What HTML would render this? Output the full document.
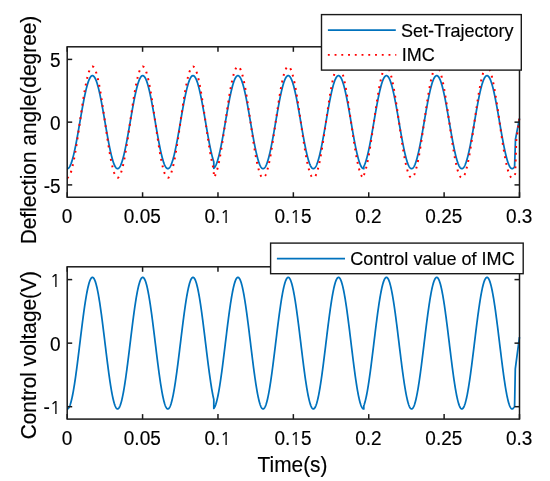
<!DOCTYPE html>
<html><head><meta charset="utf-8"><style>
html,body{margin:0;padding:0;background:#fff;}
svg{display:block;}
text{font-family:"Liberation Sans",Arial,sans-serif;fill:#000;stroke:#000;stroke-width:0.15px;}
.tk{font-size:19px;}
.lb{font-size:20.9px;}
.lg{font-size:18.05px;}
.n1{font-family:NanumGothic,"Liberation Sans",sans-serif;font-size:17.6px;}
</style></head><body>
<svg width="550" height="481" viewBox="0 0 550 481">
<rect width="550" height="481" fill="#fff"/>
<g fill="none" stroke-linejoin="round">
<path d="M67.00,168.62 L67.25,168.65 L67.50,168.63 L67.75,168.57 L68.00,168.47 L68.25,168.32 L68.50,168.13 L68.75,167.89 L69.00,167.60 L69.25,167.27 L69.50,166.90 L69.75,166.49 L70.00,166.03 L70.25,165.52 L70.50,164.98 L70.75,164.39 L71.00,163.77 L71.25,163.10 L71.50,162.39 L71.75,161.64 L72.00,160.86 L72.25,160.03 L72.50,159.17 L72.75,158.27 L73.00,157.34 L73.25,156.38 L73.50,155.38 L73.75,154.34 L74.00,153.28 L74.25,152.19 L74.50,151.06 L74.75,149.91 L75.00,148.73 L75.25,147.53 L75.50,146.30 L75.75,145.05 L76.00,143.77 L76.25,142.47 L76.50,141.16 L76.75,139.82 L77.00,138.47 L77.25,137.10 L77.50,135.72 L77.75,134.32 L78.00,132.92 L78.25,131.50 L78.50,130.07 L78.75,128.64 L79.00,127.20 L79.25,125.75 L79.50,124.30 L79.75,122.85 L80.00,121.39 L80.25,119.94 L80.50,118.49 L80.75,117.05 L81.00,115.61 L81.25,114.17 L81.50,112.74 L81.75,111.33 L82.00,109.92 L82.25,108.52 L82.50,107.14 L82.75,105.77 L83.00,104.42 L83.25,103.09 L83.50,101.77 L83.75,100.48 L84.00,99.20 L84.25,97.95 L84.50,96.72 L84.75,95.52 L85.00,94.34 L85.25,93.19 L85.50,92.07 L85.75,90.98 L86.00,89.91 L86.25,88.88 L86.50,87.88 L86.75,86.92 L87.00,85.99 L87.25,85.09 L87.50,84.23 L87.75,83.41 L88.00,82.63 L88.25,81.88 L88.50,81.18 L88.75,80.51 L89.00,79.88 L89.25,79.30 L89.50,78.76 L89.75,78.25 L90.00,77.80 L90.25,77.38 L90.50,77.01 L90.75,76.69 L91.00,76.40 L91.25,76.17 L91.50,75.97 L91.75,75.82 L92.00,75.72 L92.25,75.67 L92.50,75.65 L92.75,75.69 L93.00,75.77 L93.25,75.89 L93.50,76.06 L93.75,76.27 L94.00,76.53 L94.25,76.84 L94.50,77.18 L94.75,77.58 L95.00,78.01 L95.25,78.49 L95.50,79.01 L95.75,79.57 L96.00,80.18 L96.25,80.82 L96.50,81.51 L96.75,82.23 L97.00,83.00 L97.25,83.80 L97.50,84.64 L97.75,85.52 L98.00,86.43 L98.25,87.38 L98.50,88.36 L98.75,89.37 L99.00,90.42 L99.25,91.50 L99.50,92.60 L99.75,93.74 L100.00,94.90 L100.25,96.09 L100.50,97.31 L100.75,98.55 L101.00,99.81 L101.25,101.10 L101.50,102.40 L101.75,103.73 L102.00,105.07 L102.25,106.43 L102.50,107.80 L102.75,109.19 L103.00,110.59 L103.25,112.01 L103.50,113.43 L103.75,114.86 L104.00,116.30 L104.25,117.74 L104.50,119.19 L104.75,120.64 L105.00,122.09 L105.25,123.54 L105.50,125.00 L105.75,126.44 L106.00,127.89 L106.25,129.33 L106.50,130.76 L106.75,132.18 L107.00,133.59 L107.25,135.00 L107.50,136.39 L107.75,137.76 L108.00,139.12 L108.25,140.47 L108.50,141.79 L108.75,143.10 L109.00,144.39 L109.25,145.65 L109.50,146.89 L109.75,148.11 L110.00,149.30 L110.25,150.47 L110.50,151.61 L110.75,152.72 L111.00,153.79 L111.25,154.84 L111.50,155.86 L111.75,156.84 L112.00,157.79 L112.25,158.71 L112.50,159.59 L112.75,160.43 L113.00,161.24 L113.25,162.01 L113.50,162.73 L113.75,163.42 L114.00,164.07 L114.25,164.68 L114.50,165.25 L114.75,165.77 L115.00,166.25 L115.25,166.69 L115.50,167.09 L115.75,167.44 L116.00,167.74 L116.25,168.01 L116.50,168.22 L116.75,168.40 L117.00,168.53 L117.25,168.61 L117.50,168.65 L117.75,168.64 L118.00,168.58 L118.25,168.48 L118.50,168.34 L118.75,168.15 L119.00,167.92 L119.25,167.64 L119.50,167.32 L119.75,166.95 L120.00,166.54 L120.25,166.08 L120.50,165.59 L120.75,165.05 L121.00,164.47 L121.25,163.84 L121.50,163.18 L121.75,162.48 L122.00,161.73 L122.25,160.95 L122.50,160.13 L122.75,159.28 L123.00,158.38 L123.25,157.46 L123.50,156.49 L123.75,155.50 L124.00,154.47 L124.25,153.41 L124.50,152.32 L124.75,151.20 L125.00,150.05 L125.25,148.88 L125.50,147.67 L125.75,146.45 L126.00,145.20 L126.25,143.92 L126.50,142.63 L126.75,141.32 L127.00,139.98 L127.25,138.63 L127.50,137.27 L127.75,135.89 L128.00,134.49 L128.25,133.09 L128.50,131.67 L128.75,130.24 L129.00,128.81 L129.25,127.37 L129.50,125.92 L129.75,124.47 L130.00,123.02 L130.25,121.57 L130.50,120.12 L130.75,118.67 L131.00,117.22 L131.25,115.78 L131.50,114.34 L131.75,112.91 L132.00,111.50 L132.25,110.09 L132.50,108.69 L132.75,107.31 L133.00,105.94 L133.25,104.58 L133.50,103.25 L133.75,101.93 L134.00,100.63 L134.25,99.36 L134.50,98.10 L134.75,96.87 L135.00,95.66 L135.25,94.48 L135.50,93.33 L135.75,92.20 L136.00,91.11 L136.25,90.04 L136.50,89.01 L136.75,88.00 L137.00,87.03 L137.25,86.10 L137.50,85.20 L137.75,84.34 L138.00,83.51 L138.25,82.72 L138.50,81.97 L138.75,81.26 L139.00,80.59 L139.25,79.96 L139.50,79.37 L139.75,78.82 L140.00,78.31 L140.25,77.85 L140.50,77.43 L140.75,77.05 L141.00,76.72 L141.25,76.43 L141.50,76.19 L141.75,75.99 L142.00,75.84 L142.25,75.73 L142.50,75.67 L142.75,75.65 L143.00,75.68 L143.25,75.75 L143.50,75.87 L143.75,76.04 L144.00,76.25 L144.25,76.50 L144.50,76.80 L144.75,77.14 L145.00,77.53 L145.25,77.96 L145.50,78.43 L145.75,78.95 L146.00,79.50 L146.25,80.10 L146.50,80.74 L146.75,81.43 L147.00,82.15 L147.25,82.91 L147.50,83.70 L147.75,84.54 L148.00,85.41 L148.25,86.32 L148.50,87.26 L148.75,88.24 L149.00,89.25 L149.25,90.29 L149.50,91.37 L149.75,92.47 L150.00,93.60 L150.25,94.76 L150.50,95.95 L150.75,97.16 L151.00,98.40 L151.25,99.66 L151.50,100.94 L151.75,102.25 L152.00,103.57 L152.25,104.91 L152.50,106.27 L152.75,107.64 L153.00,109.02 L153.25,110.42 L153.50,111.84 L153.75,113.26 L154.00,114.69 L154.25,116.12 L154.50,117.57 L154.75,119.01 L155.00,120.47 L155.25,121.92 L155.50,123.37 L155.75,124.82 L156.00,126.27 L156.25,127.71 L156.50,129.15 L156.75,130.59 L157.00,132.01 L157.25,133.43 L157.50,134.83 L157.75,136.22 L158.00,137.60 L158.25,138.96 L158.50,140.31 L158.75,141.63 L159.00,142.94 L159.25,144.23 L159.50,145.50 L159.75,146.74 L160.00,147.96 L160.25,149.16 L160.50,150.33 L160.75,151.47 L161.00,152.58 L161.25,153.67 L161.50,154.72 L161.75,155.74 L162.00,156.73 L162.25,157.68 L162.50,158.60 L162.75,159.49 L163.00,160.33 L163.25,161.14 L163.50,161.92 L163.75,162.65 L164.00,163.34 L164.25,164.00 L164.50,164.61 L164.75,165.18 L165.00,165.71 L165.25,166.20 L165.50,166.64 L165.75,167.04 L166.00,167.40 L166.25,167.71 L166.50,167.98 L166.75,168.20 L167.00,168.38 L167.25,168.51 L167.50,168.60 L167.75,168.64 L168.00,168.64 L168.25,168.59 L168.50,168.50 L168.75,168.36 L169.00,168.18 L169.25,167.95 L169.50,167.67 L169.75,167.36 L170.00,166.99 L170.25,166.59 L170.50,166.14 L170.75,165.65 L171.00,165.11 L171.25,164.54 L171.50,163.92 L171.75,163.26 L172.00,162.56 L172.25,161.82 L172.50,161.05 L172.75,160.23 L173.00,159.38 L173.25,158.49 L173.50,157.57 L173.75,156.61 L174.00,155.62 L174.25,154.59 L174.50,153.54 L174.75,152.45 L175.00,151.34 L175.25,150.19 L175.50,149.02 L175.75,147.82 L176.00,146.60 L176.25,145.35 L176.50,144.08 L176.75,142.79 L177.00,141.48 L177.25,140.15 L177.50,138.80 L177.75,137.43 L178.00,136.05 L178.25,134.66 L178.50,133.26 L178.75,131.84 L179.00,130.41 L179.25,128.98 L179.50,127.54 L179.75,126.10 L180.00,124.65 L180.25,123.20 L180.50,121.74 L180.75,120.29 L181.00,118.84 L181.25,117.39 L181.50,115.95 L181.75,114.51 L182.00,113.09 L182.25,111.67 L182.50,110.26 L182.75,108.86 L183.00,107.47 L183.25,106.10 L183.50,104.75 L183.75,103.41 L184.00,102.09 L184.25,100.79 L184.50,99.51 L184.75,98.25 L185.00,97.02 L185.25,95.81 L185.50,94.62 L185.75,93.47 L186.00,92.34 L186.25,91.24 L186.50,90.17 L186.75,89.13 L187.00,88.12 L187.25,87.15 L187.50,86.21 L187.75,85.31 L188.00,84.44 L188.25,83.61 L188.50,82.81 L188.75,82.06 L189.00,81.34 L189.25,80.66 L189.50,80.03 L189.75,79.43 L190.00,78.88 L190.25,78.37 L190.50,77.90 L190.75,77.48 L191.00,77.10 L191.25,76.76 L191.50,76.47 L191.75,76.22 L192.00,76.01 L192.25,75.86 L192.50,75.74 L192.75,75.67 L193.00,75.65 L193.25,75.67 L193.50,75.74 L193.75,75.86 L194.00,76.01 L194.25,76.22 L194.50,76.47 L194.75,76.76 L195.00,77.10 L195.25,77.48 L195.50,77.90 L195.75,78.37 L196.00,78.88 L196.25,79.43 L196.50,80.03 L196.75,80.66 L197.00,81.34 L197.25,82.06 L197.50,82.81 L197.75,83.61 L198.00,84.44 L198.25,85.31 L198.50,86.21 L198.75,87.15 L199.00,88.12 L199.25,89.13 L199.50,90.17 L199.75,91.24 L200.00,92.34 L200.25,93.47 L200.50,94.62 L200.75,95.81 L201.00,97.02 L201.25,98.25 L201.50,99.51 L201.75,100.79 L202.00,102.09 L202.25,103.41 L202.50,104.75 L202.75,106.10 L203.00,107.47 L203.25,108.86 L203.50,110.26 L203.75,111.67 L204.00,113.09 L204.25,114.51 L204.50,115.95 L204.75,117.39 L205.00,118.84 L205.25,120.29 L205.50,121.74 L205.75,123.20 L206.00,124.65 L206.25,126.10 L206.50,127.54 L206.75,128.98 L207.00,130.41 L207.25,131.84 L207.50,133.26 L207.75,134.66 L208.00,136.05 L208.25,137.43 L208.50,138.80 L208.75,140.15 L209.00,141.48 L209.25,142.79 L209.50,144.08 L209.75,145.35 L210.00,146.60 L210.25,147.82 L210.50,149.02 L210.75,150.19 L211.00,151.34 L211.25,152.45 L211.50,153.54 L211.75,154.59 L212.00,155.62 L212.25,156.61 L212.50,157.57 L212.75,158.49 L213.00,159.38 L213.25,160.23 L213.50,161.05 L213.75,161.82 L213.80,161.98 L213.80,168.29 L214.05,168.08 L214.30,167.83 L214.55,167.54 L214.80,167.20 L215.05,166.82 L215.30,166.40 L215.55,165.93 L215.80,165.42 L216.05,164.87 L216.30,164.27 L216.55,163.64 L216.80,162.96 L217.05,162.24 L217.30,161.49 L217.55,160.69 L217.80,159.86 L218.05,158.99 L218.30,158.09 L218.55,157.15 L218.80,156.18 L219.05,155.17 L219.30,154.13 L219.55,153.06 L219.80,151.96 L220.05,150.83 L220.30,149.68 L220.55,148.49 L220.80,147.28 L221.05,146.05 L221.30,144.79 L221.55,143.51 L221.80,142.21 L222.05,140.89 L222.30,139.55 L222.55,138.20 L222.80,136.83 L223.05,135.44 L223.30,134.04 L223.55,132.63 L223.80,131.21 L224.05,129.79 L224.30,128.35 L224.55,126.91 L224.80,125.46 L225.05,124.01 L225.30,122.56 L225.55,121.10 L225.80,119.65 L226.05,118.20 L226.30,116.76 L226.55,115.32 L226.80,113.89 L227.05,112.46 L227.30,111.04 L227.55,109.64 L227.80,108.25 L228.05,106.87 L228.30,105.50 L228.55,104.15 L228.80,102.82 L229.05,101.51 L229.30,100.22 L229.55,98.95 L229.80,97.70 L230.05,96.48 L230.30,95.28 L230.55,94.11 L230.80,92.96 L231.05,91.85 L231.30,90.76 L231.55,89.71 L231.80,88.68 L232.05,87.69 L232.30,86.73 L232.55,85.81 L232.80,84.92 L233.05,84.07 L233.30,83.25 L233.55,82.48 L233.80,81.74 L234.05,81.04 L234.30,80.38 L234.55,79.76 L234.80,79.19 L235.05,78.65 L235.30,78.16 L235.55,77.71 L235.80,77.31 L236.05,76.94 L236.30,76.63 L236.55,76.35 L236.80,76.12 L237.05,75.94 L237.30,75.80 L237.55,75.71 L237.80,75.66 L238.05,75.66 L238.30,75.70 L238.55,75.79 L238.80,75.92 L239.05,76.10 L239.30,76.32 L239.55,76.59 L239.80,76.90 L240.05,77.26 L240.30,77.66 L240.55,78.10 L240.80,78.59 L241.05,79.12 L241.30,79.69 L241.55,80.30 L241.80,80.96 L242.05,81.65 L242.30,82.38 L242.55,83.16 L242.80,83.97 L243.05,84.81 L243.30,85.70 L243.55,86.62 L243.80,87.57 L244.05,88.56 L244.30,89.58 L244.55,90.63 L244.80,91.72 L245.05,92.83 L245.30,93.97 L245.55,95.14 L245.80,96.34 L246.05,97.56 L246.30,98.80 L246.55,100.07 L246.80,101.36 L247.05,102.67 L247.30,103.99 L247.55,105.34 L247.80,106.70 L248.05,108.08 L248.30,109.47 L248.55,110.87 L248.80,112.29 L249.05,113.71 L249.30,115.15 L249.55,116.59 L249.80,118.03 L250.05,119.48 L250.30,120.93 L250.55,122.38 L250.80,123.83 L251.05,125.29 L251.30,126.73 L251.55,128.18 L251.80,129.61 L252.05,131.04 L252.30,132.46 L252.55,133.88 L252.80,135.28 L253.05,136.66 L253.30,138.03 L253.55,139.39 L253.80,140.73 L254.05,142.05 L254.30,143.36 L254.55,144.64 L254.80,145.90 L255.05,147.14 L255.30,148.35 L255.55,149.54 L255.80,150.70 L256.05,151.83 L256.30,152.93 L256.55,154.01 L256.80,155.05 L257.05,156.06 L257.30,157.04 L257.55,157.98 L257.80,158.89 L258.05,159.76 L258.30,160.60 L258.55,161.39 L258.80,162.15 L259.05,162.87 L259.30,163.56 L259.55,164.20 L259.80,164.80 L260.05,165.35 L260.30,165.87 L260.55,166.34 L260.80,166.77 L261.05,167.16 L261.30,167.50 L261.55,167.80 L261.80,168.05 L262.05,168.26 L262.30,168.43 L262.55,168.55 L262.80,168.62 L263.05,168.65 L263.30,168.63 L263.55,168.57 L263.80,168.46 L264.05,168.31 L264.30,168.11 L264.55,167.87 L264.80,167.58 L265.05,167.25 L265.30,166.87 L265.55,166.45 L265.80,165.99 L266.05,165.48 L266.30,164.93 L266.55,164.34 L266.80,163.71 L267.05,163.04 L267.30,162.33 L267.55,161.58 L267.80,160.79 L268.05,159.96 L268.30,159.10 L268.55,158.20 L268.80,157.27 L269.05,156.30 L269.30,155.29 L269.55,154.26 L269.80,153.19 L270.05,152.10 L270.30,150.97 L270.55,149.82 L270.80,148.64 L271.05,147.43 L271.30,146.20 L271.55,144.94 L271.80,143.67 L272.05,142.37 L272.30,141.05 L272.55,139.72 L272.80,138.36 L273.05,136.99 L273.30,135.61 L273.55,134.21 L273.80,132.80 L274.05,131.39 L274.30,129.96 L274.55,128.52 L274.80,127.08 L275.05,125.63 L275.30,124.18 L275.55,122.73 L275.80,121.28 L276.05,119.83 L276.30,118.38 L276.55,116.93 L276.80,115.49 L277.05,114.06 L277.30,112.63 L277.55,111.21 L277.80,109.81 L278.05,108.41 L278.30,107.03 L278.55,105.67 L278.80,104.32 L279.05,102.98 L279.30,101.67 L279.55,100.38 L279.80,99.10 L280.05,97.85 L280.30,96.63 L280.55,95.42 L280.80,94.25 L281.05,93.10 L281.30,91.98 L281.55,90.89 L281.80,89.83 L282.05,88.80 L282.30,87.81 L282.55,86.84 L282.80,85.92 L283.05,85.02 L283.30,84.17 L283.55,83.35 L283.80,82.57 L284.05,81.82 L284.30,81.12 L284.55,80.46 L284.80,79.83 L285.05,79.25 L285.30,78.71 L285.55,78.22 L285.80,77.76 L286.05,77.35 L286.30,76.98 L286.55,76.66 L286.80,76.38 L287.05,76.15 L287.30,75.96 L287.55,75.82 L287.80,75.72 L288.05,75.66 L288.30,75.65 L288.55,75.69 L288.80,75.77 L289.05,75.90 L289.30,76.08 L289.55,76.29 L289.80,76.56 L290.05,76.86 L290.30,77.21 L290.55,77.61 L290.80,78.05 L291.05,78.53 L291.30,79.05 L291.55,79.62 L291.80,80.23 L292.05,80.88 L292.30,81.57 L292.55,82.29 L292.80,83.06 L293.05,83.87 L293.30,84.71 L293.55,85.59 L293.80,86.51 L294.05,87.46 L294.30,88.44 L294.55,89.46 L294.80,90.51 L295.05,91.58 L295.30,92.69 L295.55,93.83 L295.80,95.00 L296.05,96.19 L296.30,97.41 L296.55,98.65 L296.80,99.91 L297.05,101.20 L297.30,102.51 L297.55,103.83 L297.80,105.18 L298.05,106.54 L298.30,107.91 L298.55,109.30 L298.80,110.71 L299.05,112.12 L299.30,113.54 L299.55,114.97 L299.80,116.41 L300.05,117.86 L300.30,119.30 L300.55,120.76 L300.80,122.21 L301.05,123.66 L301.30,125.11 L301.55,126.56 L301.80,128.00 L302.05,129.44 L302.30,130.87 L302.55,132.29 L302.80,133.71 L303.05,135.11 L303.30,136.50 L303.55,137.87 L303.80,139.23 L304.05,140.57 L304.30,141.90 L304.55,143.20 L304.80,144.49 L305.05,145.75 L305.30,146.99 L305.55,148.21 L305.80,149.40 L306.05,150.56 L306.30,151.70 L306.55,152.80 L306.80,153.88 L307.05,154.93 L307.30,155.94 L307.55,156.92 L307.80,157.87 L308.05,158.78 L308.30,159.66 L308.55,160.50 L308.80,161.30 L309.05,162.07 L309.30,162.79 L309.55,163.48 L309.80,164.12 L310.05,164.73 L310.30,165.29 L310.55,165.81 L310.80,166.29 L311.05,166.72 L311.30,167.12 L311.55,167.46 L311.80,167.77 L312.05,168.03 L312.30,168.24 L312.55,168.41 L312.80,168.53 L313.05,168.61 L313.30,168.65 L313.55,168.63 L313.80,168.58 L314.05,168.48 L314.30,168.33 L314.55,168.13 L314.80,167.90 L315.05,167.61 L315.30,167.29 L315.55,166.92 L315.80,166.50 L316.05,166.05 L316.30,165.54 L316.55,165.00 L316.80,164.42 L317.05,163.79 L317.30,163.12 L317.55,162.42 L317.80,161.67 L318.05,160.89 L318.30,160.07 L318.55,159.21 L318.80,158.31 L319.05,157.38 L319.30,156.42 L319.55,155.42 L319.80,154.39 L320.05,153.32 L320.30,152.23 L320.55,151.11 L320.80,149.96 L321.05,148.78 L321.30,147.58 L321.55,146.35 L321.80,145.10 L322.05,143.82 L322.30,142.53 L322.55,141.21 L322.80,139.88 L323.05,138.53 L323.30,137.16 L323.55,135.78 L323.80,134.38 L324.05,132.97 L324.30,131.56 L324.55,130.13 L324.80,128.69 L325.05,127.25 L325.30,125.81 L325.55,124.36 L325.80,122.91 L326.05,121.45 L326.30,120.00 L326.55,118.55 L326.80,117.10 L327.05,115.66 L327.30,114.23 L327.55,112.80 L327.80,111.38 L328.05,109.98 L328.30,108.58 L328.55,107.20 L328.80,105.83 L329.05,104.48 L329.30,103.14 L329.55,101.83 L329.80,100.53 L330.05,99.25 L330.30,98.00 L330.55,96.77 L330.80,95.57 L331.05,94.39 L331.30,93.24 L331.55,92.11 L331.80,91.02 L332.05,89.96 L332.30,88.92 L332.55,87.92 L332.80,86.96 L333.05,86.03 L333.30,85.13 L333.55,84.27 L333.80,83.44 L334.05,82.66 L334.30,81.91 L334.55,81.20 L334.80,80.53 L335.05,79.91 L335.30,79.32 L335.55,78.78 L335.80,78.27 L336.05,77.81 L336.30,77.40 L336.55,77.03 L336.80,76.70 L337.05,76.41 L337.30,76.17 L337.55,75.98 L337.80,75.83 L338.05,75.73 L338.30,75.67 L338.55,75.65 L338.80,75.68 L339.05,75.76 L339.30,75.88 L339.55,76.05 L339.80,76.26 L340.05,76.52 L340.30,76.82 L340.55,77.17 L340.80,77.56 L341.05,77.99 L341.30,78.47 L341.55,78.99 L341.80,79.55 L342.05,80.15 L342.30,80.80 L342.55,81.48 L342.80,82.21 L343.05,82.97 L343.30,83.77 L343.55,84.61 L343.80,85.48 L344.05,86.39 L344.30,87.34 L344.55,88.32 L344.80,89.33 L345.05,90.38 L345.30,91.45 L345.55,92.56 L345.80,93.69 L346.05,94.86 L346.30,96.05 L346.55,97.26 L346.80,98.50 L347.05,99.76 L347.30,101.05 L347.55,102.35 L347.80,103.67 L348.05,105.02 L348.30,106.37 L348.55,107.75 L348.80,109.14 L349.05,110.54 L349.30,111.95 L349.55,113.37 L349.80,114.80 L350.05,116.24 L350.30,117.68 L350.55,119.13 L350.80,120.58 L351.05,122.03 L351.30,123.49 L351.55,124.94 L351.80,126.39 L352.05,127.83 L352.30,129.27 L352.55,130.70 L352.80,132.12 L353.05,133.54 L353.30,134.94 L353.55,136.33 L353.80,137.71 L354.05,139.07 L354.30,140.41 L354.55,141.74 L354.80,143.05 L355.05,144.33 L355.30,145.60 L355.55,146.84 L355.80,148.06 L356.05,149.25 L356.30,150.42 L356.55,151.56 L356.80,152.67 L357.05,153.75 L357.30,154.80 L357.55,155.82 L357.80,156.81 L358.05,157.76 L358.30,158.67 L358.55,159.55 L358.80,160.40 L359.05,161.21 L359.30,161.98 L359.55,162.71 L359.80,163.40 L360.05,164.05 L360.30,164.66 L360.55,165.22 L360.80,165.75 L361.05,166.23 L361.30,166.67 L361.55,167.07 L361.80,167.42 L362.05,167.73 L362.30,168.00 L362.55,168.22 L362.80,168.39 L363.05,168.52 L363.30,168.61 L363.55,168.64 L363.80,168.64 L363.80,166.40 L364.05,165.93 L364.30,165.42 L364.55,164.87 L364.80,164.27 L365.05,163.64 L365.30,162.96 L365.55,162.24 L365.80,161.49 L366.05,160.69 L366.30,159.86 L366.55,158.99 L366.80,158.09 L367.05,157.15 L367.30,156.18 L367.55,155.17 L367.80,154.13 L368.05,153.06 L368.30,151.96 L368.55,150.83 L368.80,149.68 L369.05,148.49 L369.30,147.28 L369.55,146.05 L369.80,144.79 L370.05,143.51 L370.30,142.21 L370.55,140.89 L370.80,139.55 L371.05,138.20 L371.30,136.83 L371.55,135.44 L371.80,134.04 L372.05,132.63 L372.30,131.21 L372.55,129.79 L372.80,128.35 L373.05,126.91 L373.30,125.46 L373.55,124.01 L373.80,122.56 L374.05,121.10 L374.30,119.65 L374.55,118.20 L374.80,116.76 L375.05,115.32 L375.30,113.89 L375.55,112.46 L375.80,111.04 L376.05,109.64 L376.30,108.25 L376.55,106.87 L376.80,105.50 L377.05,104.15 L377.30,102.82 L377.55,101.51 L377.80,100.22 L378.05,98.95 L378.30,97.70 L378.55,96.48 L378.80,95.28 L379.05,94.11 L379.30,92.96 L379.55,91.85 L379.80,90.76 L380.05,89.71 L380.30,88.68 L380.55,87.69 L380.80,86.73 L381.05,85.81 L381.30,84.92 L381.55,84.07 L381.80,83.25 L382.05,82.48 L382.30,81.74 L382.55,81.04 L382.80,80.38 L383.05,79.76 L383.30,79.19 L383.55,78.65 L383.80,78.16 L384.05,77.71 L384.30,77.31 L384.55,76.94 L384.80,76.63 L385.05,76.35 L385.30,76.12 L385.55,75.94 L385.80,75.80 L386.05,75.71 L386.30,75.66 L386.55,75.66 L386.80,75.70 L387.05,75.79 L387.30,75.92 L387.55,76.10 L387.80,76.32 L388.05,76.59 L388.30,76.90 L388.55,77.26 L388.80,77.66 L389.05,78.10 L389.30,78.59 L389.55,79.12 L389.80,79.69 L390.05,80.30 L390.30,80.96 L390.55,81.65 L390.80,82.38 L391.05,83.16 L391.30,83.97 L391.55,84.81 L391.80,85.70 L392.05,86.62 L392.30,87.57 L392.55,88.56 L392.80,89.58 L393.05,90.63 L393.30,91.72 L393.55,92.83 L393.80,93.97 L394.05,95.14 L394.30,96.34 L394.55,97.56 L394.80,98.80 L395.05,100.07 L395.30,101.36 L395.55,102.67 L395.80,103.99 L396.05,105.34 L396.30,106.70 L396.55,108.08 L396.80,109.47 L397.05,110.87 L397.30,112.29 L397.55,113.71 L397.80,115.15 L398.05,116.59 L398.30,118.03 L398.55,119.48 L398.80,120.93 L399.05,122.38 L399.30,123.83 L399.55,125.29 L399.80,126.73 L400.05,128.18 L400.30,129.61 L400.55,131.04 L400.80,132.46 L401.05,133.88 L401.30,135.28 L401.55,136.66 L401.80,138.03 L402.05,139.39 L402.30,140.73 L402.55,142.05 L402.80,143.36 L403.05,144.64 L403.30,145.90 L403.55,147.14 L403.80,148.35 L404.05,149.54 L404.30,150.70 L404.55,151.83 L404.80,152.93 L405.05,154.01 L405.30,155.05 L405.55,156.06 L405.80,157.04 L406.05,157.98 L406.30,158.89 L406.55,159.76 L406.80,160.60 L407.05,161.39 L407.30,162.15 L407.55,162.87 L407.80,163.56 L408.05,164.20 L408.30,164.80 L408.55,165.35 L408.80,165.87 L409.05,166.34 L409.30,166.77 L409.55,167.16 L409.80,167.50 L410.05,167.80 L410.30,168.05 L410.55,168.26 L410.80,168.43 L411.05,168.55 L411.30,168.62 L411.55,168.65 L411.80,168.63 L412.05,168.57 L412.30,168.46 L412.55,168.31 L412.80,168.11 L413.05,167.87 L413.30,167.58 L413.55,167.25 L413.80,166.87 L414.05,166.45 L414.30,165.99 L414.55,165.48 L414.80,164.93 L415.05,164.34 L415.30,163.71 L415.55,163.04 L415.80,162.33 L416.05,161.58 L416.30,160.79 L416.55,159.96 L416.80,159.10 L417.05,158.20 L417.30,157.27 L417.55,156.30 L417.80,155.29 L418.05,154.26 L418.30,153.19 L418.55,152.10 L418.80,150.97 L419.05,149.82 L419.30,148.64 L419.55,147.43 L419.80,146.20 L420.05,144.94 L420.30,143.67 L420.55,142.37 L420.80,141.05 L421.05,139.72 L421.30,138.36 L421.55,136.99 L421.80,135.61 L422.05,134.21 L422.30,132.80 L422.55,131.39 L422.80,129.96 L423.05,128.52 L423.30,127.08 L423.55,125.63 L423.80,124.18 L424.05,122.73 L424.30,121.28 L424.55,119.83 L424.80,118.38 L425.05,116.93 L425.30,115.49 L425.55,114.06 L425.80,112.63 L426.05,111.21 L426.30,109.81 L426.55,108.41 L426.80,107.03 L427.05,105.67 L427.30,104.32 L427.55,102.98 L427.80,101.67 L428.05,100.38 L428.30,99.10 L428.55,97.85 L428.80,96.63 L429.05,95.42 L429.30,94.25 L429.55,93.10 L429.80,91.98 L430.05,90.89 L430.30,89.83 L430.55,88.80 L430.80,87.81 L431.05,86.84 L431.30,85.92 L431.55,85.02 L431.80,84.17 L432.05,83.35 L432.30,82.57 L432.55,81.82 L432.80,81.12 L433.05,80.46 L433.30,79.83 L433.55,79.25 L433.80,78.71 L434.05,78.22 L434.30,77.76 L434.55,77.35 L434.80,76.98 L435.05,76.66 L435.30,76.38 L435.55,76.15 L435.80,75.96 L436.05,75.82 L436.30,75.72 L436.55,75.66 L436.80,75.65 L437.05,75.69 L437.30,75.77 L437.55,75.90 L437.80,76.08 L438.05,76.29 L438.30,76.56 L438.55,76.86 L438.80,77.21 L439.05,77.61 L439.30,78.05 L439.55,78.53 L439.80,79.05 L440.05,79.62 L440.30,80.23 L440.55,80.88 L440.80,81.57 L441.05,82.29 L441.30,83.06 L441.55,83.87 L441.80,84.71 L442.05,85.59 L442.30,86.51 L442.55,87.46 L442.80,88.44 L443.05,89.46 L443.30,90.51 L443.55,91.58 L443.80,92.69 L444.05,93.83 L444.30,95.00 L444.55,96.19 L444.80,97.41 L445.05,98.65 L445.30,99.91 L445.55,101.20 L445.80,102.51 L446.05,103.83 L446.30,105.18 L446.55,106.54 L446.80,107.91 L447.05,109.30 L447.30,110.71 L447.55,112.12 L447.80,113.54 L448.05,114.97 L448.30,116.41 L448.55,117.86 L448.80,119.30 L449.05,120.76 L449.30,122.21 L449.55,123.66 L449.80,125.11 L450.05,126.56 L450.30,128.00 L450.55,129.44 L450.80,130.87 L451.05,132.29 L451.30,133.71 L451.55,135.11 L451.80,136.50 L452.05,137.87 L452.30,139.23 L452.55,140.57 L452.80,141.90 L453.05,143.20 L453.30,144.49 L453.55,145.75 L453.80,146.99 L454.05,148.21 L454.30,149.40 L454.55,150.56 L454.80,151.70 L455.05,152.80 L455.30,153.88 L455.55,154.93 L455.80,155.94 L456.05,156.92 L456.30,157.87 L456.55,158.78 L456.80,159.66 L457.05,160.50 L457.30,161.30 L457.55,162.07 L457.80,162.79 L458.05,163.48 L458.30,164.12 L458.55,164.73 L458.80,165.29 L459.05,165.81 L459.30,166.29 L459.55,166.72 L459.80,167.12 L460.05,167.46 L460.30,167.77 L460.55,168.03 L460.80,168.24 L461.05,168.41 L461.30,168.53 L461.55,168.61 L461.80,168.65 L462.05,168.63 L462.30,168.58 L462.55,168.48 L462.80,168.33 L463.05,168.13 L463.30,167.90 L463.55,167.61 L463.80,167.29 L464.05,166.92 L464.30,166.50 L464.55,166.05 L464.80,165.54 L465.05,165.00 L465.30,164.42 L465.55,163.79 L465.80,163.12 L466.05,162.42 L466.30,161.67 L466.55,160.89 L466.80,160.07 L467.05,159.21 L467.30,158.31 L467.55,157.38 L467.80,156.42 L468.05,155.42 L468.30,154.39 L468.55,153.32 L468.80,152.23 L469.05,151.11 L469.30,149.96 L469.55,148.78 L469.80,147.58 L470.05,146.35 L470.30,145.10 L470.55,143.82 L470.80,142.53 L471.05,141.21 L471.30,139.88 L471.55,138.53 L471.80,137.16 L472.05,135.78 L472.30,134.38 L472.55,132.97 L472.80,131.56 L473.05,130.13 L473.30,128.69 L473.55,127.25 L473.80,125.81 L474.05,124.36 L474.30,122.91 L474.55,121.45 L474.80,120.00 L475.05,118.55 L475.30,117.10 L475.55,115.66 L475.80,114.23 L476.05,112.80 L476.30,111.38 L476.55,109.98 L476.80,108.58 L477.05,107.20 L477.30,105.83 L477.55,104.48 L477.80,103.14 L478.05,101.83 L478.30,100.53 L478.55,99.25 L478.80,98.00 L479.05,96.77 L479.30,95.57 L479.55,94.39 L479.80,93.24 L480.05,92.11 L480.30,91.02 L480.55,89.96 L480.80,88.92 L481.05,87.92 L481.30,86.96 L481.55,86.03 L481.80,85.13 L482.05,84.27 L482.30,83.44 L482.55,82.66 L482.80,81.91 L483.05,81.20 L483.30,80.53 L483.55,79.91 L483.80,79.32 L484.05,78.78 L484.30,78.27 L484.55,77.81 L484.80,77.40 L485.05,77.03 L485.30,76.70 L485.55,76.41 L485.80,76.17 L486.05,75.98 L486.30,75.83 L486.55,75.73 L486.80,75.67 L487.05,75.65 L487.30,75.68 L487.55,75.76 L487.80,75.88 L488.05,76.05 L488.30,76.26 L488.55,76.52 L488.80,76.82 L489.05,77.17 L489.30,77.56 L489.55,77.99 L489.80,78.47 L490.05,78.99 L490.30,79.55 L490.55,80.15 L490.80,80.80 L491.05,81.48 L491.30,82.21 L491.55,82.97 L491.80,83.77 L492.05,84.61 L492.30,85.48 L492.55,86.39 L492.80,87.34 L493.05,88.32 L493.30,89.33 L493.55,90.38 L493.80,91.45 L494.05,92.56 L494.30,93.69 L494.55,94.86 L494.80,96.05 L495.05,97.26 L495.30,98.50 L495.55,99.76 L495.80,101.05 L496.05,102.35 L496.30,103.67 L496.55,105.02 L496.80,106.37 L497.05,107.75 L497.30,109.14 L497.55,110.54 L497.80,111.95 L498.05,113.37 L498.30,114.80 L498.55,116.24 L498.80,117.68 L499.05,119.13 L499.30,120.58 L499.55,122.03 L499.80,123.49 L500.05,124.94 L500.30,126.39 L500.55,127.83 L500.80,129.27 L501.05,130.70 L501.30,132.12 L501.55,133.54 L501.80,134.94 L502.05,136.33 L502.30,137.71 L502.55,139.07 L502.80,140.41 L503.05,141.74 L503.30,143.05 L503.55,144.33 L503.80,145.60 L504.05,146.84 L504.30,148.06 L504.55,149.25 L504.80,150.42 L505.05,151.56 L505.30,152.67 L505.55,153.75 L505.80,154.80 L506.05,155.82 L506.30,156.81 L506.55,157.76 L506.80,158.67 L507.05,159.55 L507.30,160.40 L507.55,161.21 L507.80,161.98 L508.05,162.71 L508.30,163.40 L508.55,164.05 L508.80,164.66 L509.05,165.22 L509.30,165.75 L509.55,166.23 L509.80,166.67 L510.05,167.07 L510.30,167.42 L510.55,167.73 L510.80,168.00 L511.05,168.22 L511.30,168.39 L511.55,168.52 L511.80,168.61 L512.05,168.64 L512.30,168.64 L512.55,168.59 L512.80,168.49 L513.05,168.35 L513.30,168.16 L513.55,167.93 L513.80,167.65 L514.05,167.33 L514.30,166.96 L514.55,166.55 L514.60,166.47 L515.50,139.20 L519.45,118.30" stroke="#0072BD" stroke-width="1.75"/>
<path d="M67.00,177.71 L67.25,177.75 L67.50,177.73 L67.75,177.66 L68.00,177.53 L68.25,177.36 L68.50,177.12 L68.75,176.84 L69.00,176.50 L69.25,176.10 L69.50,175.66 L69.75,175.16 L70.00,174.61 L70.25,174.01 L70.50,173.36 L70.75,172.66 L71.00,171.91 L71.25,171.11 L71.50,170.26 L71.75,169.37 L72.00,168.43 L72.25,167.44 L72.50,166.42 L72.75,165.34 L73.00,164.23 L73.25,163.07 L73.50,161.88 L73.75,160.64 L74.00,159.37 L74.25,158.06 L74.50,156.72 L74.75,155.34 L75.00,153.93 L75.25,152.49 L75.50,151.02 L75.75,149.53 L76.00,148.00 L76.25,146.45 L76.50,144.88 L76.75,143.28 L77.00,141.66 L77.25,140.03 L77.50,138.38 L77.75,136.71 L78.00,135.02 L78.25,133.33 L78.50,131.62 L78.75,129.91 L79.00,128.18 L79.25,126.45 L79.50,124.72 L79.75,122.98 L80.00,121.25 L80.25,119.51 L80.50,117.78 L80.75,116.05 L81.00,114.33 L81.25,112.61 L81.50,110.90 L81.75,109.21 L82.00,107.53 L82.25,105.86 L82.50,104.21 L82.75,102.57 L83.00,100.95 L83.25,99.36 L83.50,97.79 L83.75,96.24 L84.00,94.71 L84.25,93.22 L84.50,91.75 L84.75,90.31 L85.00,88.90 L85.25,87.52 L85.50,86.18 L85.75,84.88 L86.00,83.61 L86.25,82.37 L86.50,81.18 L86.75,80.03 L87.00,78.91 L87.25,77.84 L87.50,76.81 L87.75,75.83 L88.00,74.89 L88.25,74.00 L88.50,73.16 L88.75,72.36 L89.00,71.61 L89.25,70.91 L89.50,70.26 L89.75,69.67 L90.00,69.12 L90.25,68.62 L90.50,68.18 L90.75,67.79 L91.00,67.45 L91.25,67.17 L91.50,66.94 L91.75,66.76 L92.00,66.64 L92.25,66.57 L92.50,66.56 L92.75,66.60 L93.00,66.69 L93.25,66.84 L93.50,67.04 L93.75,67.30 L94.00,67.61 L94.25,67.97 L94.50,68.39 L94.75,68.85 L95.00,69.37 L95.25,69.95 L95.50,70.57 L95.75,71.24 L96.00,71.96 L96.25,72.74 L96.50,73.56 L96.75,74.42 L97.00,75.34 L97.25,76.30 L97.50,77.30 L97.75,78.35 L98.00,79.44 L98.25,80.57 L98.50,81.75 L98.75,82.96 L99.00,84.21 L99.25,85.50 L99.50,86.82 L99.75,88.18 L100.00,89.57 L100.25,91.00 L100.50,92.45 L100.75,93.93 L101.00,95.44 L101.25,96.98 L101.50,98.54 L101.75,100.12 L102.00,101.73 L102.25,103.35 L102.50,105.00 L102.75,106.66 L103.00,108.33 L103.25,110.02 L103.50,111.72 L103.75,113.43 L104.00,115.15 L104.25,116.88 L104.50,118.61 L104.75,120.34 L105.00,122.08 L105.25,123.82 L105.50,125.55 L105.75,127.28 L106.00,129.01 L106.25,130.73 L106.50,132.44 L106.75,134.14 L107.00,135.83 L107.25,137.51 L107.50,139.17 L107.75,140.82 L108.00,142.44 L108.25,144.05 L108.50,145.64 L108.75,147.20 L109.00,148.74 L109.25,150.25 L109.50,151.73 L109.75,153.19 L110.00,154.61 L110.25,156.01 L110.50,157.37 L110.75,158.70 L111.00,159.99 L111.25,161.24 L111.50,162.46 L111.75,163.63 L112.00,164.77 L112.25,165.86 L112.50,166.92 L112.75,167.92 L113.00,168.89 L113.25,169.80 L113.50,170.68 L113.75,171.50 L114.00,172.28 L114.25,173.00 L114.50,173.68 L114.75,174.31 L115.00,174.88 L115.25,175.41 L115.50,175.88 L115.75,176.30 L116.00,176.67 L116.25,176.98 L116.50,177.24 L116.75,177.45 L117.00,177.60 L117.25,177.70 L117.50,177.74 L117.75,177.73 L118.00,177.67 L118.25,177.55 L118.50,177.38 L118.75,177.15 L119.00,176.87 L119.25,176.54 L119.50,176.15 L119.75,175.71 L120.00,175.22 L120.25,174.68 L120.50,174.09 L120.75,173.44 L121.00,172.75 L121.25,172.00 L121.50,171.21 L121.75,170.37 L122.00,169.48 L122.25,168.54 L122.50,167.57 L122.75,166.54 L123.00,165.47 L123.25,164.36 L123.50,163.21 L123.75,162.02 L124.00,160.79 L124.25,159.53 L124.50,158.22 L124.75,156.88 L125.00,155.51 L125.25,154.11 L125.50,152.67 L125.75,151.20 L126.00,149.71 L126.25,148.19 L126.50,146.64 L126.75,145.07 L127.00,143.47 L127.25,141.86 L127.50,140.23 L127.75,138.58 L128.00,136.91 L128.25,135.23 L128.50,133.53 L128.75,131.83 L129.00,130.11 L129.25,128.39 L129.50,126.66 L129.75,124.93 L130.00,123.19 L130.25,121.46 L130.50,119.72 L130.75,117.99 L131.00,116.26 L131.25,114.53 L131.50,112.82 L131.75,111.11 L132.00,109.41 L132.25,107.73 L132.50,106.06 L132.75,104.40 L133.00,102.77 L133.25,101.15 L133.50,99.55 L133.75,97.97 L134.00,96.42 L134.25,94.90 L134.50,93.39 L134.75,91.92 L135.00,90.48 L135.25,89.07 L135.50,87.69 L135.75,86.34 L136.00,85.03 L136.25,83.76 L136.50,82.52 L136.75,81.32 L137.00,80.16 L137.25,79.04 L137.50,77.97 L137.75,76.94 L138.00,75.95 L138.25,75.00 L138.50,74.11 L138.75,73.26 L139.00,72.45 L139.25,71.70 L139.50,70.99 L139.75,70.34 L140.00,69.73 L140.25,69.18 L140.50,68.68 L140.75,68.23 L141.00,67.83 L141.25,67.49 L141.50,67.20 L141.75,66.96 L142.00,66.78 L142.25,66.65 L142.50,66.57 L142.75,66.55 L143.00,66.59 L143.25,66.68 L143.50,66.82 L143.75,67.01 L144.00,67.26 L144.25,67.57 L144.50,67.92 L144.75,68.33 L145.00,68.79 L145.25,69.31 L145.50,69.87 L145.75,70.49 L146.00,71.16 L146.25,71.88 L146.50,72.64 L146.75,73.46 L147.00,74.32 L147.25,75.23 L147.50,76.18 L147.75,77.18 L148.00,78.22 L148.25,79.31 L148.50,80.44 L148.75,81.60 L149.00,82.81 L149.25,84.06 L149.50,85.34 L149.75,86.66 L150.00,88.02 L150.25,89.40 L150.50,90.82 L150.75,92.27 L151.00,93.75 L151.25,95.26 L151.50,96.79 L151.75,98.35 L152.00,99.93 L152.25,101.53 L152.50,103.16 L152.75,104.80 L153.00,106.46 L153.25,108.13 L153.50,109.82 L153.75,111.52 L154.00,113.23 L154.25,114.94 L154.50,116.67 L154.75,118.40 L155.00,120.14 L155.25,121.87 L155.50,123.61 L155.75,125.34 L156.00,127.08 L156.25,128.80 L156.50,130.52 L156.75,132.24 L157.00,133.94 L157.25,135.63 L157.50,137.31 L157.75,138.97 L158.00,140.62 L158.25,142.25 L158.50,143.86 L158.75,145.45 L159.00,147.01 L159.25,148.55 L159.50,150.07 L159.75,151.56 L160.00,153.02 L160.25,154.45 L160.50,155.84 L160.75,157.21 L161.00,158.54 L161.25,159.83 L161.50,161.09 L161.75,162.31 L162.00,163.49 L162.25,164.64 L162.50,165.73 L162.75,166.79 L163.00,167.80 L163.25,168.77 L163.50,169.70 L163.75,170.57 L164.00,171.40 L164.25,172.18 L164.50,172.92 L164.75,173.60 L165.00,174.23 L165.25,174.82 L165.50,175.35 L165.75,175.83 L166.00,176.25 L166.25,176.63 L166.50,176.95 L166.75,177.21 L167.00,177.43 L167.25,177.59 L167.50,177.69 L167.75,177.74 L168.00,177.74 L168.25,177.68 L168.50,177.57 L168.75,177.40 L169.00,177.18 L169.25,176.91 L169.50,176.58 L169.75,176.20 L170.00,175.77 L170.25,175.29 L170.50,174.75 L170.75,174.16 L171.00,173.52 L171.25,172.83 L171.50,172.09 L171.75,171.31 L172.00,170.47 L172.25,169.59 L172.50,168.66 L172.75,167.69 L173.00,166.67 L173.25,165.60 L173.50,164.50 L173.75,163.35 L174.00,162.17 L174.25,160.94 L174.50,159.68 L174.75,158.38 L175.00,157.05 L175.25,155.68 L175.50,154.28 L175.75,152.84 L176.00,151.38 L176.25,149.89 L176.50,148.37 L176.75,146.83 L177.00,145.26 L177.25,143.67 L177.50,142.05 L177.75,140.42 L178.00,138.77 L178.25,137.11 L178.50,135.43 L178.75,133.74 L179.00,132.03 L179.25,130.32 L179.50,128.60 L179.75,126.87 L180.00,125.14 L180.25,123.40 L180.50,121.66 L180.75,119.93 L181.00,118.19 L181.25,116.46 L181.50,114.74 L181.75,113.02 L182.00,111.31 L182.25,109.61 L182.50,107.93 L182.75,106.26 L183.00,104.60 L183.25,102.96 L183.50,101.34 L183.75,99.74 L184.00,98.16 L184.25,96.61 L184.50,95.08 L184.75,93.57 L185.00,92.10 L185.25,90.65 L185.50,89.24 L185.75,87.85 L186.00,86.50 L186.25,85.19 L186.50,83.91 L186.75,82.67 L187.00,81.46 L187.25,80.30 L187.50,79.18 L187.75,78.10 L188.00,77.06 L188.25,76.06 L188.50,75.11 L188.75,74.21 L189.00,73.36 L189.25,72.55 L189.50,71.79 L189.75,71.08 L190.00,70.41 L190.25,69.80 L190.50,69.24 L190.75,68.74 L191.00,68.28 L191.25,67.88 L191.50,67.53 L191.75,67.23 L192.00,66.99 L192.25,66.80 L192.50,66.66 L192.75,66.58 L193.00,66.55 L193.25,66.58 L193.50,66.66 L193.75,66.80 L194.00,66.99 L194.25,67.23 L194.50,67.53 L194.75,67.88 L195.00,68.28 L195.25,68.74 L195.50,69.24 L195.75,69.80 L196.00,70.41 L196.25,71.08 L196.50,71.79 L196.75,72.55 L197.00,73.36 L197.25,74.21 L197.50,75.11 L197.75,76.06 L198.00,77.06 L198.25,78.10 L198.50,79.18 L198.75,80.30 L199.00,81.46 L199.25,82.67 L199.50,83.91 L199.75,85.19 L200.00,86.50 L200.25,87.85 L200.50,89.24 L200.75,90.65 L201.00,92.10 L201.25,93.57 L201.50,95.08 L201.75,96.61 L202.00,98.16 L202.25,99.74 L202.50,101.34 L202.75,102.96 L203.00,104.60 L203.25,106.26 L203.50,107.93 L203.75,109.61 L204.00,111.31 L204.25,113.02 L204.50,114.74 L204.75,116.46 L205.00,118.19 L205.25,119.93 L205.50,121.66 L205.75,123.40 L206.00,125.14 L206.25,126.87 L206.50,128.60 L206.75,130.32 L207.00,132.03 L207.25,133.74 L207.50,135.43 L207.75,137.11 L208.00,138.77 L208.25,140.42 L208.50,142.05 L208.75,143.67 L209.00,145.26 L209.25,146.83 L209.50,148.37 L209.75,149.89 L210.00,151.38 L210.25,152.84 L210.50,154.28 L210.75,155.68 L211.00,157.05 L211.25,158.38 L211.50,159.68 L211.75,160.94 L212.00,162.17 L212.25,163.35 L212.50,164.50 L212.75,165.60 L213.00,166.67 L213.25,167.69 L213.50,168.66 L213.75,169.59 L213.80,169.77 L213.80,177.31 L214.05,177.07 L214.30,176.77 L214.55,176.42 L214.80,176.02 L215.05,175.56 L215.30,175.06 L215.55,174.50 L215.80,173.89 L216.05,173.22 L216.30,172.51 L216.55,171.75 L216.80,170.94 L217.05,170.09 L217.30,169.19 L217.55,168.24 L217.80,167.24 L218.05,166.20 L218.30,165.12 L218.55,164.00 L218.80,162.84 L219.05,161.63 L219.30,160.39 L219.55,159.11 L219.80,157.80 L220.05,156.45 L220.30,155.06 L220.55,153.65 L220.80,152.20 L221.05,150.73 L221.30,149.22 L221.55,147.69 L221.80,146.14 L222.05,144.56 L222.30,142.96 L222.55,141.34 L222.80,139.70 L223.05,138.04 L223.30,136.37 L223.55,134.69 L223.80,132.99 L224.05,131.28 L224.30,129.56 L224.55,127.84 L224.80,126.11 L225.05,124.37 L225.30,122.64 L225.55,120.90 L225.80,119.16 L226.05,117.43 L226.30,115.70 L226.55,113.98 L226.80,112.27 L227.05,110.56 L227.30,108.87 L227.55,107.19 L227.80,105.53 L228.05,103.88 L228.30,102.25 L228.55,100.63 L228.80,99.04 L229.05,97.47 L229.30,95.93 L229.55,94.41 L229.80,92.92 L230.05,91.46 L230.30,90.02 L230.55,88.62 L230.80,87.25 L231.05,85.92 L231.30,84.62 L231.55,83.36 L231.80,82.13 L232.05,80.95 L232.30,79.80 L232.55,78.70 L232.80,77.63 L233.05,76.61 L233.30,75.64 L233.55,74.71 L233.80,73.83 L234.05,72.99 L234.30,72.21 L234.55,71.47 L234.80,70.78 L235.05,70.14 L235.30,69.55 L235.55,69.01 L235.80,68.53 L236.05,68.10 L236.30,67.72 L236.55,67.39 L236.80,67.12 L237.05,66.90 L237.30,66.73 L237.55,66.62 L237.80,66.56 L238.05,66.56 L238.30,66.61 L238.55,66.71 L238.80,66.87 L239.05,67.09 L239.30,67.35 L239.55,67.67 L239.80,68.05 L240.05,68.47 L240.30,68.95 L240.55,69.48 L240.80,70.07 L241.05,70.70 L241.30,71.38 L241.55,72.12 L241.80,72.90 L242.05,73.73 L242.30,74.60 L242.55,75.53 L242.80,76.50 L243.05,77.51 L243.30,78.57 L243.55,79.66 L243.80,80.81 L244.05,81.99 L244.30,83.21 L244.55,84.47 L244.80,85.76 L245.05,87.09 L245.30,88.46 L245.55,89.85 L245.80,91.28 L246.05,92.74 L246.30,94.23 L246.55,95.75 L246.80,97.29 L247.05,98.85 L247.30,100.44 L247.55,102.05 L247.80,103.68 L248.05,105.33 L248.30,106.99 L248.55,108.67 L248.80,110.36 L249.05,112.06 L249.30,113.78 L249.55,115.50 L249.80,117.22 L250.05,118.96 L250.30,120.69 L250.55,122.43 L250.80,124.16 L251.05,125.90 L251.30,127.63 L251.55,129.36 L251.80,131.07 L252.05,132.78 L252.30,134.48 L252.55,136.17 L252.80,137.84 L253.05,139.50 L253.30,141.14 L253.55,142.77 L253.80,144.37 L254.05,145.95 L254.30,147.51 L254.55,149.04 L254.80,150.55 L255.05,152.03 L255.30,153.48 L255.55,154.90 L255.80,156.28 L256.05,157.64 L256.30,158.96 L256.55,160.24 L256.80,161.49 L257.05,162.70 L257.30,163.86 L257.55,164.99 L257.80,166.08 L258.05,167.12 L258.30,168.12 L258.55,169.07 L258.80,169.98 L259.05,170.84 L259.30,171.66 L259.55,172.42 L259.80,173.14 L260.05,173.81 L260.30,174.43 L260.55,174.99 L260.80,175.51 L261.05,175.97 L261.30,176.38 L261.55,176.73 L261.80,177.04 L262.05,177.29 L262.30,177.48 L262.55,177.62 L262.80,177.71 L263.05,177.75 L263.30,177.73 L263.55,177.65 L263.80,177.52 L264.05,177.34 L264.30,177.10 L264.55,176.81 L264.80,176.47 L265.05,176.07 L265.30,175.62 L265.55,175.12 L265.80,174.57 L266.05,173.96 L266.30,173.31 L266.55,172.60 L266.80,171.85 L267.05,171.04 L267.30,170.19 L267.55,169.30 L267.80,168.35 L268.05,167.36 L268.30,166.33 L268.55,165.26 L268.80,164.14 L269.05,162.98 L269.30,161.78 L269.55,160.54 L269.80,159.27 L270.05,157.96 L270.30,156.61 L270.55,155.23 L270.80,153.82 L271.05,152.38 L271.30,150.91 L271.55,149.40 L271.80,147.88 L272.05,146.33 L272.30,144.75 L272.55,143.15 L272.80,141.53 L273.05,139.90 L273.30,138.24 L273.55,136.57 L273.80,134.89 L274.05,133.19 L274.30,131.48 L274.55,129.77 L274.80,128.04 L275.05,126.31 L275.30,124.58 L275.55,122.84 L275.80,121.11 L276.05,119.37 L276.30,117.64 L276.55,115.91 L276.80,114.19 L277.05,112.47 L277.30,110.77 L277.55,109.07 L277.80,107.39 L278.05,105.72 L278.30,104.07 L278.55,102.44 L278.80,100.83 L279.05,99.23 L279.30,97.66 L279.55,96.11 L279.80,94.59 L280.05,93.10 L280.30,91.63 L280.55,90.19 L280.80,88.79 L281.05,87.42 L281.30,86.08 L281.55,84.77 L281.80,83.51 L282.05,82.28 L282.30,81.09 L282.55,79.94 L282.80,78.83 L283.05,77.76 L283.30,76.73 L283.55,75.76 L283.80,74.82 L284.05,73.93 L284.30,73.09 L284.55,72.30 L284.80,71.55 L285.05,70.86 L285.30,70.21 L285.55,69.62 L285.80,69.08 L286.05,68.59 L286.30,68.15 L286.55,67.76 L286.80,67.43 L287.05,67.15 L287.30,66.92 L287.55,66.75 L287.80,66.63 L288.05,66.57 L288.30,66.56 L288.55,66.60 L288.80,66.70 L289.05,66.85 L289.30,67.06 L289.55,67.32 L289.80,67.63 L290.05,68.00 L290.30,68.42 L290.55,68.89 L290.80,69.42 L291.05,69.99 L291.30,70.62 L291.55,71.30 L291.80,72.02 L292.05,72.80 L292.30,73.62 L292.55,74.50 L292.80,75.41 L293.05,76.38 L293.30,77.38 L293.55,78.44 L293.80,79.53 L294.05,80.67 L294.30,81.84 L294.55,83.06 L294.80,84.31 L295.05,85.60 L295.30,86.93 L295.55,88.29 L295.80,89.69 L296.05,91.11 L296.30,92.57 L296.55,94.05 L296.80,95.56 L297.05,97.10 L297.30,98.66 L297.55,100.25 L297.80,101.86 L298.05,103.48 L298.30,105.13 L298.55,106.79 L298.80,108.47 L299.05,110.16 L299.30,111.86 L299.55,113.57 L299.80,115.29 L300.05,117.02 L300.30,118.75 L300.55,120.48 L300.80,122.22 L301.05,123.96 L301.30,125.69 L301.55,127.42 L301.80,129.15 L302.05,130.87 L302.30,132.58 L302.55,134.28 L302.80,135.97 L303.05,137.64 L303.30,139.30 L303.55,140.95 L303.80,142.57 L304.05,144.18 L304.30,145.76 L304.55,147.32 L304.80,148.86 L305.05,150.37 L305.30,151.85 L305.55,153.30 L305.80,154.73 L306.05,156.12 L306.30,157.48 L306.55,158.80 L306.80,160.09 L307.05,161.34 L307.30,162.55 L307.55,163.73 L307.80,164.86 L308.05,165.95 L308.30,167.00 L308.55,168.00 L308.80,168.96 L309.05,169.88 L309.30,170.74 L309.55,171.56 L309.80,172.34 L310.05,173.06 L310.30,173.73 L310.55,174.35 L310.80,174.93 L311.05,175.45 L311.30,175.91 L311.55,176.33 L311.80,176.69 L312.05,177.00 L312.30,177.26 L312.55,177.46 L312.80,177.61 L313.05,177.70 L313.30,177.74 L313.55,177.73 L313.80,177.66 L314.05,177.54 L314.30,177.36 L314.55,177.13 L314.80,176.85 L315.05,176.51 L315.30,176.12 L315.55,175.68 L315.80,175.18 L316.05,174.63 L316.30,174.04 L316.55,173.39 L316.80,172.69 L317.05,171.94 L317.30,171.14 L317.55,170.30 L317.80,169.41 L318.05,168.47 L318.30,167.49 L318.55,166.46 L318.80,165.39 L319.05,164.27 L319.30,163.12 L319.55,161.93 L319.80,160.69 L320.05,159.42 L320.30,158.12 L320.55,156.78 L320.80,155.40 L321.05,153.99 L321.30,152.55 L321.55,151.08 L321.80,149.59 L322.05,148.06 L322.30,146.51 L322.55,144.94 L322.80,143.35 L323.05,141.73 L323.30,140.09 L323.55,138.44 L323.80,136.77 L324.05,135.09 L324.30,133.40 L324.55,131.69 L324.80,129.97 L325.05,128.25 L325.30,126.52 L325.55,124.79 L325.80,123.05 L326.05,121.32 L326.30,119.58 L326.55,117.85 L326.80,116.12 L327.05,114.39 L327.30,112.68 L327.55,110.97 L327.80,109.28 L328.05,107.59 L328.30,105.92 L328.55,104.27 L328.80,102.64 L329.05,101.02 L329.30,99.42 L329.55,97.85 L329.80,96.30 L330.05,94.77 L330.30,93.28 L330.55,91.81 L330.80,90.37 L331.05,88.96 L331.30,87.58 L331.55,86.24 L331.80,84.93 L332.05,83.66 L332.30,82.42 L332.55,81.23 L332.80,80.07 L333.05,78.96 L333.30,77.88 L333.55,76.86 L333.80,75.87 L334.05,74.93 L334.30,74.04 L334.55,73.19 L334.80,72.39 L335.05,71.64 L335.30,70.94 L335.55,70.29 L335.80,69.69 L336.05,69.14 L336.30,68.64 L336.55,68.20 L336.80,67.80 L337.05,67.46 L337.30,67.18 L337.55,66.94 L337.80,66.77 L338.05,66.64 L338.30,66.57 L338.55,66.55 L338.80,66.59 L339.05,66.68 L339.30,66.83 L339.55,67.03 L339.80,67.29 L340.05,67.59 L340.30,67.95 L340.55,68.37 L340.80,68.83 L341.05,69.35 L341.30,69.92 L341.55,70.54 L341.80,71.21 L342.05,71.94 L342.30,72.70 L342.55,73.52 L342.80,74.39 L343.05,75.30 L343.30,76.26 L343.55,77.26 L343.80,78.31 L344.05,79.40 L344.30,80.53 L344.55,81.70 L344.80,82.91 L345.05,84.16 L345.30,85.45 L345.55,86.77 L345.80,88.13 L346.05,89.52 L346.30,90.94 L346.55,92.39 L346.80,93.87 L347.05,95.38 L347.30,96.92 L347.55,98.48 L347.80,100.06 L348.05,101.66 L348.30,103.29 L348.55,104.93 L348.80,106.59 L349.05,108.26 L349.30,109.95 L349.55,111.65 L349.80,113.36 L350.05,115.08 L350.30,116.81 L350.55,118.54 L350.80,120.27 L351.05,122.01 L351.30,123.75 L351.55,125.48 L351.80,127.21 L352.05,128.94 L352.30,130.66 L352.55,132.37 L352.80,134.08 L353.05,135.77 L353.30,137.44 L353.55,139.11 L353.80,140.75 L354.05,142.38 L354.30,143.99 L354.55,145.57 L354.80,147.14 L355.05,148.68 L355.30,150.19 L355.55,151.67 L355.80,153.13 L356.05,154.56 L356.30,155.95 L356.55,157.32 L356.80,158.64 L357.05,159.94 L357.30,161.19 L357.55,162.41 L357.80,163.59 L358.05,164.72 L358.30,165.82 L358.55,166.87 L358.80,167.88 L359.05,168.85 L359.30,169.77 L359.55,170.64 L359.80,171.47 L360.05,172.25 L360.30,172.97 L360.55,173.65 L360.80,174.28 L361.05,174.86 L361.30,175.39 L361.55,175.86 L361.80,176.28 L362.05,176.65 L362.30,176.97 L362.55,177.23 L362.80,177.44 L363.05,177.60 L363.30,177.70 L363.55,177.74 L363.80,177.74 L363.80,175.06 L364.05,174.50 L364.30,173.89 L364.55,173.22 L364.80,172.51 L365.05,171.75 L365.30,170.94 L365.55,170.09 L365.80,169.19 L366.05,168.24 L366.30,167.24 L366.55,166.20 L366.80,165.12 L367.05,164.00 L367.30,162.84 L367.55,161.63 L367.80,160.39 L368.05,159.11 L368.30,157.80 L368.55,156.45 L368.80,155.06 L369.05,153.65 L369.30,152.20 L369.55,150.73 L369.80,149.22 L370.05,147.69 L370.30,146.14 L370.55,144.56 L370.80,142.96 L371.05,141.34 L371.30,139.70 L371.55,138.04 L371.80,136.37 L372.05,134.69 L372.30,132.99 L372.55,131.28 L372.80,129.56 L373.05,127.84 L373.30,126.11 L373.55,124.37 L373.80,122.64 L374.05,120.90 L374.30,119.16 L374.55,117.43 L374.80,115.70 L375.05,113.98 L375.30,112.27 L375.55,110.56 L375.80,108.87 L376.05,107.19 L376.30,105.53 L376.55,103.88 L376.80,102.25 L377.05,100.63 L377.30,99.04 L377.55,97.47 L377.80,95.93 L378.05,94.41 L378.30,92.92 L378.55,91.46 L378.80,90.02 L379.05,88.62 L379.30,87.25 L379.55,85.92 L379.80,84.62 L380.05,83.36 L380.30,82.13 L380.55,80.95 L380.80,79.80 L381.05,78.70 L381.30,77.63 L381.55,76.61 L381.80,75.64 L382.05,74.71 L382.30,73.83 L382.55,72.99 L382.80,72.21 L383.05,71.47 L383.30,70.78 L383.55,70.14 L383.80,69.55 L384.05,69.01 L384.30,68.53 L384.55,68.10 L384.80,67.72 L385.05,67.39 L385.30,67.12 L385.55,66.90 L385.80,66.73 L386.05,66.62 L386.30,66.56 L386.55,66.56 L386.80,66.61 L387.05,66.71 L387.30,66.87 L387.55,67.09 L387.80,67.35 L388.05,67.67 L388.30,68.05 L388.55,68.47 L388.80,68.95 L389.05,69.48 L389.30,70.07 L389.55,70.70 L389.80,71.38 L390.05,72.12 L390.30,72.90 L390.55,73.73 L390.80,74.60 L391.05,75.53 L391.30,76.50 L391.55,77.51 L391.80,78.57 L392.05,79.66 L392.30,80.81 L392.55,81.99 L392.80,83.21 L393.05,84.47 L393.30,85.76 L393.55,87.09 L393.80,88.46 L394.05,89.85 L394.30,91.28 L394.55,92.74 L394.80,94.23 L395.05,95.75 L395.30,97.29 L395.55,98.85 L395.80,100.44 L396.05,102.05 L396.30,103.68 L396.55,105.33 L396.80,106.99 L397.05,108.67 L397.30,110.36 L397.55,112.06 L397.80,113.78 L398.05,115.50 L398.30,117.22 L398.55,118.96 L398.80,120.69 L399.05,122.43 L399.30,124.16 L399.55,125.90 L399.80,127.63 L400.05,129.36 L400.30,131.07 L400.55,132.78 L400.80,134.48 L401.05,136.17 L401.30,137.84 L401.55,139.50 L401.80,141.14 L402.05,142.77 L402.30,144.37 L402.55,145.95 L402.80,147.51 L403.05,149.04 L403.30,150.55 L403.55,152.03 L403.80,153.48 L404.05,154.90 L404.30,156.28 L404.55,157.64 L404.80,158.96 L405.05,160.24 L405.30,161.49 L405.55,162.70 L405.80,163.86 L406.05,164.99 L406.30,166.08 L406.55,167.12 L406.80,168.12 L407.05,169.07 L407.30,169.98 L407.55,170.84 L407.80,171.66 L408.05,172.42 L408.30,173.14 L408.55,173.81 L408.80,174.43 L409.05,174.99 L409.30,175.51 L409.55,175.97 L409.80,176.38 L410.05,176.73 L410.30,177.04 L410.55,177.29 L410.80,177.48 L411.05,177.62 L411.30,177.71 L411.55,177.75 L411.80,177.73 L412.05,177.65 L412.30,177.52 L412.55,177.34 L412.80,177.10 L413.05,176.81 L413.30,176.47 L413.55,176.07 L413.80,175.62 L414.05,175.12 L414.30,174.57 L414.55,173.96 L414.80,173.31 L415.05,172.60 L415.30,171.85 L415.55,171.04 L415.80,170.19 L416.05,169.30 L416.30,168.35 L416.55,167.36 L416.80,166.33 L417.05,165.26 L417.30,164.14 L417.55,162.98 L417.80,161.78 L418.05,160.54 L418.30,159.27 L418.55,157.96 L418.80,156.61 L419.05,155.23 L419.30,153.82 L419.55,152.38 L419.80,150.91 L420.05,149.40 L420.30,147.88 L420.55,146.33 L420.80,144.75 L421.05,143.15 L421.30,141.53 L421.55,139.90 L421.80,138.24 L422.05,136.57 L422.30,134.89 L422.55,133.19 L422.80,131.48 L423.05,129.77 L423.30,128.04 L423.55,126.31 L423.80,124.58 L424.05,122.84 L424.30,121.11 L424.55,119.37 L424.80,117.64 L425.05,115.91 L425.30,114.19 L425.55,112.47 L425.80,110.77 L426.05,109.07 L426.30,107.39 L426.55,105.72 L426.80,104.07 L427.05,102.44 L427.30,100.83 L427.55,99.23 L427.80,97.66 L428.05,96.11 L428.30,94.59 L428.55,93.10 L428.80,91.63 L429.05,90.19 L429.30,88.79 L429.55,87.42 L429.80,86.08 L430.05,84.77 L430.30,83.51 L430.55,82.28 L430.80,81.09 L431.05,79.94 L431.30,78.83 L431.55,77.76 L431.80,76.73 L432.05,75.76 L432.30,74.82 L432.55,73.93 L432.80,73.09 L433.05,72.30 L433.30,71.55 L433.55,70.86 L433.80,70.21 L434.05,69.62 L434.30,69.08 L434.55,68.59 L434.80,68.15 L435.05,67.76 L435.30,67.43 L435.55,67.15 L435.80,66.92 L436.05,66.75 L436.30,66.63 L436.55,66.57 L436.80,66.56 L437.05,66.60 L437.30,66.70 L437.55,66.85 L437.80,67.06 L438.05,67.32 L438.30,67.63 L438.55,68.00 L438.80,68.42 L439.05,68.89 L439.30,69.42 L439.55,69.99 L439.80,70.62 L440.05,71.30 L440.30,72.02 L440.55,72.80 L440.80,73.62 L441.05,74.50 L441.30,75.41 L441.55,76.38 L441.80,77.38 L442.05,78.44 L442.30,79.53 L442.55,80.67 L442.80,81.84 L443.05,83.06 L443.30,84.31 L443.55,85.60 L443.80,86.93 L444.05,88.29 L444.30,89.69 L444.55,91.11 L444.80,92.57 L445.05,94.05 L445.30,95.56 L445.55,97.10 L445.80,98.66 L446.05,100.25 L446.30,101.86 L446.55,103.48 L446.80,105.13 L447.05,106.79 L447.30,108.47 L447.55,110.16 L447.80,111.86 L448.05,113.57 L448.30,115.29 L448.55,117.02 L448.80,118.75 L449.05,120.48 L449.30,122.22 L449.55,123.96 L449.80,125.69 L450.05,127.42 L450.30,129.15 L450.55,130.87 L450.80,132.58 L451.05,134.28 L451.30,135.97 L451.55,137.64 L451.80,139.30 L452.05,140.95 L452.30,142.57 L452.55,144.18 L452.80,145.76 L453.05,147.32 L453.30,148.86 L453.55,150.37 L453.80,151.85 L454.05,153.30 L454.30,154.73 L454.55,156.12 L454.80,157.48 L455.05,158.80 L455.30,160.09 L455.55,161.34 L455.80,162.55 L456.05,163.73 L456.30,164.86 L456.55,165.95 L456.80,167.00 L457.05,168.00 L457.30,168.96 L457.55,169.88 L457.80,170.74 L458.05,171.56 L458.30,172.34 L458.55,173.06 L458.80,173.73 L459.05,174.35 L459.30,174.93 L459.55,175.45 L459.80,175.91 L460.05,176.33 L460.30,176.69 L460.55,177.00 L460.80,177.26 L461.05,177.46 L461.30,177.61 L461.55,177.70 L461.80,177.74 L462.05,177.73 L462.30,177.66 L462.55,177.54 L462.80,177.36 L463.05,177.13 L463.30,176.85 L463.55,176.51 L463.80,176.12 L464.05,175.68 L464.30,175.18 L464.55,174.63 L464.80,174.04 L465.05,173.39 L465.30,172.69 L465.55,171.94 L465.80,171.14 L466.05,170.30 L466.30,169.41 L466.55,168.47 L466.80,167.49 L467.05,166.46 L467.30,165.39 L467.55,164.27 L467.80,163.12 L468.05,161.93 L468.30,160.69 L468.55,159.42 L468.80,158.12 L469.05,156.78 L469.30,155.40 L469.55,153.99 L469.80,152.55 L470.05,151.08 L470.30,149.59 L470.55,148.06 L470.80,146.51 L471.05,144.94 L471.30,143.35 L471.55,141.73 L471.80,140.09 L472.05,138.44 L472.30,136.77 L472.55,135.09 L472.80,133.40 L473.05,131.69 L473.30,129.97 L473.55,128.25 L473.80,126.52 L474.05,124.79 L474.30,123.05 L474.55,121.32 L474.80,119.58 L475.05,117.85 L475.30,116.12 L475.55,114.39 L475.80,112.68 L476.05,110.97 L476.30,109.28 L476.55,107.59 L476.80,105.92 L477.05,104.27 L477.30,102.64 L477.55,101.02 L477.80,99.42 L478.05,97.85 L478.30,96.30 L478.55,94.77 L478.80,93.28 L479.05,91.81 L479.30,90.37 L479.55,88.96 L479.80,87.58 L480.05,86.24 L480.30,84.93 L480.55,83.66 L480.80,82.42 L481.05,81.23 L481.30,80.07 L481.55,78.96 L481.80,77.88 L482.05,76.86 L482.30,75.87 L482.55,74.93 L482.80,74.04 L483.05,73.19 L483.30,72.39 L483.55,71.64 L483.80,70.94 L484.05,70.29 L484.30,69.69 L484.55,69.14 L484.80,68.64 L485.05,68.20 L485.30,67.80 L485.55,67.46 L485.80,67.18 L486.05,66.94 L486.30,66.77 L486.55,66.64 L486.80,66.57 L487.05,66.55 L487.30,66.59 L487.55,66.68 L487.80,66.83 L488.05,67.03 L488.30,67.29 L488.55,67.59 L488.80,67.95 L489.05,68.37 L489.30,68.83 L489.55,69.35 L489.80,69.92 L490.05,70.54 L490.30,71.21 L490.55,71.94 L490.80,72.70 L491.05,73.52 L491.30,74.39 L491.55,75.30 L491.80,76.26 L492.05,77.26 L492.30,78.31 L492.55,79.40 L492.80,80.53 L493.05,81.70 L493.30,82.91 L493.55,84.16 L493.80,85.45 L494.05,86.77 L494.30,88.13 L494.55,89.52 L494.80,90.94 L495.05,92.39 L495.30,93.87 L495.55,95.38 L495.80,96.92 L496.05,98.48 L496.30,100.06 L496.55,101.66 L496.80,103.29 L497.05,104.93 L497.30,106.59 L497.55,108.26 L497.80,109.95 L498.05,111.65 L498.30,113.36 L498.55,115.08 L498.80,116.81 L499.05,118.54 L499.30,120.27 L499.55,122.01 L499.80,123.75 L500.05,125.48 L500.30,127.21 L500.55,128.94 L500.80,130.66 L501.05,132.37 L501.30,134.08 L501.55,135.77 L501.80,137.44 L502.05,139.11 L502.30,140.75 L502.55,142.38 L502.80,143.99 L503.05,145.57 L503.30,147.14 L503.55,148.68 L503.80,150.19 L504.05,151.67 L504.30,153.13 L504.55,154.56 L504.80,155.95 L505.05,157.32 L505.30,158.64 L505.55,159.94 L505.80,161.19 L506.05,162.41 L506.30,163.59 L506.55,164.72 L506.80,165.82 L507.05,166.87 L507.30,167.88 L507.55,168.85 L507.80,169.77 L508.05,170.64 L508.30,171.47 L508.55,172.25 L508.80,172.97 L509.05,173.65 L509.30,174.28 L509.55,174.86 L509.80,175.39 L510.05,175.86 L510.30,176.28 L510.55,176.65 L510.80,176.97 L511.05,177.23 L511.30,177.44 L511.55,177.60 L511.80,177.70 L512.05,177.74 L512.30,177.74 L512.55,177.67 L512.80,177.56 L513.05,177.39 L513.30,177.16 L513.55,176.89 L513.80,176.55 L514.05,176.17 L514.30,175.73 L514.55,175.24 L514.80,174.70 L515.05,174.11 L515.20,173.73 L516.30,140.50 L517.80,130.00 L519.45,117.50" stroke="#FF0000" stroke-width="2" stroke-dasharray="1.9 4.9"/>
<path d="M67.00,408.88 L67.25,408.92 L67.50,408.90 L67.75,408.82 L68.00,408.67 L68.25,408.46 L68.50,408.19 L68.75,407.85 L69.00,407.45 L69.25,406.98 L69.50,406.45 L69.75,405.87 L70.00,405.22 L70.25,404.51 L70.50,403.74 L70.75,402.91 L71.00,402.02 L71.25,401.07 L71.50,400.07 L71.75,399.01 L72.00,397.90 L72.25,396.74 L72.50,395.52 L72.75,394.25 L73.00,392.93 L73.25,391.57 L73.50,390.15 L73.75,388.69 L74.00,387.19 L74.25,385.64 L74.50,384.05 L74.75,382.42 L75.00,380.75 L75.25,379.05 L75.50,377.31 L75.75,375.54 L76.00,373.73 L76.25,371.90 L76.50,370.04 L76.75,368.15 L77.00,366.24 L77.25,364.30 L77.50,362.35 L77.75,360.37 L78.00,358.38 L78.25,356.37 L78.50,354.36 L78.75,352.33 L79.00,350.29 L79.25,348.24 L79.50,346.19 L79.75,344.14 L80.00,342.08 L80.25,340.03 L80.50,337.98 L80.75,335.93 L81.00,333.89 L81.25,331.86 L81.50,329.84 L81.75,327.84 L82.00,325.85 L82.25,323.87 L82.50,321.92 L82.75,319.99 L83.00,318.07 L83.25,316.19 L83.50,314.33 L83.75,312.49 L84.00,310.69 L84.25,308.92 L84.50,307.18 L84.75,305.48 L85.00,303.81 L85.25,302.19 L85.50,300.60 L85.75,299.05 L86.00,297.55 L86.25,296.09 L86.50,294.68 L86.75,293.31 L87.00,292.00 L87.25,290.73 L87.50,289.52 L87.75,288.35 L88.00,287.24 L88.25,286.19 L88.50,285.19 L88.75,284.25 L89.00,283.36 L89.25,282.53 L89.50,281.77 L89.75,281.06 L90.00,280.41 L90.25,279.82 L90.50,279.30 L90.75,278.84 L91.00,278.44 L91.25,278.10 L91.50,277.83 L91.75,277.62 L92.00,277.48 L92.25,277.39 L92.50,277.38 L92.75,277.43 L93.00,277.54 L93.25,277.71 L93.50,277.95 L93.75,278.26 L94.00,278.62 L94.25,279.05 L94.50,279.54 L94.75,280.10 L95.00,280.71 L95.25,281.39 L95.50,282.13 L95.75,282.92 L96.00,283.78 L96.25,284.69 L96.50,285.66 L96.75,286.69 L97.00,287.77 L97.25,288.90 L97.50,290.09 L97.75,291.33 L98.00,292.62 L98.25,293.96 L98.50,295.35 L98.75,296.79 L99.00,298.27 L99.25,299.79 L99.50,301.36 L99.75,302.96 L100.00,304.61 L100.25,306.29 L100.50,308.01 L100.75,309.77 L101.00,311.55 L101.25,313.37 L101.50,315.22 L101.75,317.09 L102.00,318.99 L102.25,320.91 L102.50,322.86 L102.75,324.82 L103.00,326.80 L103.25,328.80 L103.50,330.81 L103.75,332.84 L104.00,334.87 L104.25,336.91 L104.50,338.96 L104.75,341.01 L105.00,343.07 L105.25,345.12 L105.50,347.17 L105.75,349.22 L106.00,351.27 L106.25,353.30 L106.50,355.33 L106.75,357.34 L107.00,359.34 L107.25,361.32 L107.50,363.29 L107.75,365.23 L108.00,367.16 L108.25,369.06 L108.50,370.93 L108.75,372.78 L109.00,374.60 L109.25,376.39 L109.50,378.15 L109.75,379.87 L110.00,381.56 L110.25,383.21 L110.50,384.82 L110.75,386.39 L111.00,387.91 L111.25,389.40 L111.50,390.84 L111.75,392.23 L112.00,393.57 L112.25,394.87 L112.50,396.11 L112.75,397.30 L113.00,398.44 L113.25,399.53 L113.50,400.56 L113.75,401.53 L114.00,402.45 L114.25,403.31 L114.50,404.11 L114.75,404.85 L115.00,405.54 L115.25,406.16 L115.50,406.71 L115.75,407.21 L116.00,407.65 L116.25,408.02 L116.50,408.33 L116.75,408.57 L117.00,408.75 L117.25,408.87 L117.50,408.92 L117.75,408.91 L118.00,408.83 L118.25,408.69 L118.50,408.49 L118.75,408.22 L119.00,407.89 L119.25,407.50 L119.50,407.04 L119.75,406.52 L120.00,405.94 L120.25,405.30 L120.50,404.59 L120.75,403.83 L121.00,403.01 L121.25,402.13 L121.50,401.19 L121.75,400.19 L122.00,399.14 L122.25,398.04 L122.50,396.88 L122.75,395.67 L123.00,394.41 L123.25,393.09 L123.50,391.73 L123.75,390.32 L124.00,388.87 L124.25,387.37 L124.50,385.83 L124.75,384.24 L125.00,382.62 L125.25,380.96 L125.50,379.26 L125.75,377.52 L126.00,375.75 L126.25,373.95 L126.50,372.12 L126.75,370.26 L127.00,368.38 L127.25,366.47 L127.50,364.54 L127.75,362.58 L128.00,360.61 L128.25,358.62 L128.50,356.62 L128.75,354.60 L129.00,352.57 L129.25,350.53 L129.50,348.49 L129.75,346.44 L130.00,344.38 L130.25,342.33 L130.50,340.27 L130.75,338.22 L131.00,336.18 L131.25,334.14 L131.50,332.11 L131.75,330.09 L132.00,328.08 L132.25,326.09 L132.50,324.11 L132.75,322.15 L133.00,320.22 L133.25,318.30 L133.50,316.41 L133.75,314.55 L134.00,312.71 L134.25,310.91 L134.50,309.13 L134.75,307.39 L135.00,305.68 L135.25,304.01 L135.50,302.38 L135.75,300.79 L136.00,299.24 L136.25,297.73 L136.50,296.26 L136.75,294.85 L137.00,293.48 L137.25,292.15 L137.50,290.88 L137.75,289.66 L138.00,288.49 L138.25,287.37 L138.50,286.31 L138.75,285.31 L139.00,284.36 L139.25,283.46 L139.50,282.63 L139.75,281.85 L140.00,281.14 L140.25,280.48 L140.50,279.89 L140.75,279.36 L141.00,278.89 L141.25,278.48 L141.50,278.14 L141.75,277.86 L142.00,277.64 L142.25,277.49 L142.50,277.40 L142.75,277.38 L143.00,277.42 L143.25,277.52 L143.50,277.69 L143.75,277.92 L144.00,278.22 L144.25,278.57 L144.50,279.00 L144.75,279.48 L145.00,280.03 L145.25,280.64 L145.50,281.31 L145.75,282.03 L146.00,282.82 L146.25,283.67 L146.50,284.58 L146.75,285.54 L147.00,286.56 L147.25,287.64 L147.50,288.77 L147.75,289.95 L148.00,291.18 L148.25,292.47 L148.50,293.80 L148.75,295.18 L149.00,296.61 L149.25,298.09 L149.50,299.60 L149.75,301.17 L150.00,302.77 L150.25,304.41 L150.50,306.09 L150.75,307.80 L151.00,309.55 L151.25,311.34 L151.50,313.15 L151.75,314.99 L152.00,316.86 L152.25,318.76 L152.50,320.68 L152.75,322.62 L153.00,324.58 L153.25,326.56 L153.50,328.56 L153.75,330.57 L154.00,332.59 L154.25,334.63 L154.50,336.67 L154.75,338.71 L155.00,340.77 L155.25,342.82 L155.50,344.88 L155.75,346.93 L156.00,348.98 L156.25,351.02 L156.50,353.06 L156.75,355.08 L157.00,357.10 L157.25,359.10 L157.50,361.08 L157.75,363.05 L158.00,365.00 L158.25,366.93 L158.50,368.83 L158.75,370.71 L159.00,372.56 L159.25,374.39 L159.50,376.18 L159.75,377.94 L160.00,379.67 L160.25,381.36 L160.50,383.01 L160.75,384.63 L161.00,386.20 L161.25,387.73 L161.50,389.22 L161.75,390.67 L162.00,392.06 L162.25,393.41 L162.50,394.71 L162.75,395.96 L163.00,397.16 L163.25,398.31 L163.50,399.40 L163.75,400.44 L164.00,401.42 L164.25,402.34 L164.50,403.21 L164.75,404.02 L165.00,404.77 L165.25,405.46 L165.50,406.08 L165.75,406.65 L166.00,407.16 L166.25,407.60 L166.50,407.98 L166.75,408.29 L167.00,408.54 L167.25,408.73 L167.50,408.86 L167.75,408.92 L168.00,408.91 L168.25,408.85 L168.50,408.71 L168.75,408.52 L169.00,408.26 L169.25,407.93 L169.50,407.55 L169.75,407.10 L170.00,406.59 L170.25,406.01 L170.50,405.38 L170.75,404.68 L171.00,403.93 L171.25,403.11 L171.50,402.24 L171.75,401.30 L172.00,400.32 L172.25,399.27 L172.50,398.17 L172.75,397.02 L173.00,395.82 L173.25,394.56 L173.50,393.25 L173.75,391.90 L174.00,390.49 L174.25,389.05 L174.50,387.55 L174.75,386.01 L175.00,384.43 L175.25,382.81 L175.50,381.16 L175.75,379.46 L176.00,377.73 L176.25,375.97 L176.50,374.17 L176.75,372.34 L177.00,370.49 L177.25,368.61 L177.50,366.70 L177.75,364.77 L178.00,362.82 L178.25,360.85 L178.50,358.86 L178.75,356.86 L179.00,354.84 L179.25,352.81 L179.50,350.78 L179.75,348.73 L180.00,346.68 L180.25,344.63 L180.50,342.57 L180.75,340.52 L181.00,338.47 L181.25,336.42 L181.50,334.38 L181.75,332.35 L182.00,330.33 L182.25,328.32 L182.50,326.32 L182.75,324.35 L183.00,322.39 L183.25,320.45 L183.50,318.53 L183.75,316.64 L184.00,314.77 L184.25,312.93 L184.50,311.12 L184.75,309.34 L185.00,307.60 L185.25,305.88 L185.50,304.21 L185.75,302.57 L186.00,300.98 L186.25,299.42 L186.50,297.91 L186.75,296.44 L187.00,295.01 L187.25,293.64 L187.50,292.31 L187.75,291.03 L188.00,289.80 L188.25,288.63 L188.50,287.50 L188.75,286.44 L189.00,285.42 L189.25,284.47 L189.50,283.57 L189.75,282.73 L190.00,281.94 L190.25,281.22 L190.50,280.56 L190.75,279.96 L191.00,279.42 L191.25,278.94 L191.50,278.53 L191.75,278.18 L192.00,277.89 L192.25,277.66 L192.50,277.50 L192.75,277.41 L193.00,277.38 L193.25,277.41 L193.50,277.50 L193.75,277.66 L194.00,277.89 L194.25,278.18 L194.50,278.53 L194.75,278.94 L195.00,279.42 L195.25,279.96 L195.50,280.56 L195.75,281.22 L196.00,281.94 L196.25,282.73 L196.50,283.57 L196.75,284.47 L197.00,285.42 L197.25,286.44 L197.50,287.50 L197.75,288.63 L198.00,289.80 L198.25,291.03 L198.50,292.31 L198.75,293.64 L199.00,295.01 L199.25,296.44 L199.50,297.91 L199.75,299.42 L200.00,300.98 L200.25,302.57 L200.50,304.21 L200.75,305.88 L201.00,307.60 L201.25,309.34 L201.50,311.12 L201.75,312.93 L202.00,314.77 L202.25,316.64 L202.50,318.53 L202.75,320.45 L203.00,322.39 L203.25,324.35 L203.50,326.32 L203.75,328.32 L204.00,330.33 L204.25,332.35 L204.50,334.38 L204.75,336.42 L205.00,338.47 L205.25,340.52 L205.50,342.57 L205.75,344.63 L206.00,346.68 L206.25,348.73 L206.50,350.78 L206.75,352.81 L207.00,354.84 L207.25,356.86 L207.50,358.86 L207.75,360.85 L208.00,362.82 L208.25,364.77 L208.50,366.70 L208.75,368.61 L209.00,370.49 L209.25,372.34 L209.50,374.17 L209.75,375.97 L210.00,377.73 L210.25,379.46 L210.50,381.16 L210.75,382.81 L211.00,384.43 L211.25,386.01 L211.50,387.55 L211.75,389.05 L212.00,390.49 L212.25,391.90 L212.50,393.25 L212.75,394.56 L213.00,395.82 L213.25,397.02 L213.50,398.17 L213.75,399.27 L213.80,399.49 L213.80,408.41 L214.05,408.12 L214.30,407.77 L214.55,407.36 L214.80,406.88 L215.05,406.34 L215.30,405.74 L215.55,405.08 L215.80,404.36 L216.05,403.57 L216.30,402.73 L216.55,401.83 L216.80,400.88 L217.05,399.86 L217.30,398.80 L217.55,397.67 L217.80,396.50 L218.05,395.27 L218.30,393.99 L218.55,392.66 L218.80,391.29 L219.05,389.86 L219.30,388.39 L219.55,386.88 L219.80,385.32 L220.05,383.73 L220.30,382.09 L220.55,380.42 L220.80,378.70 L221.05,376.96 L221.30,375.18 L221.55,373.37 L221.80,371.53 L222.05,369.66 L222.30,367.77 L222.55,365.85 L222.80,363.91 L223.05,361.95 L223.30,359.98 L223.55,357.98 L223.80,355.97 L224.05,353.95 L224.30,351.92 L224.55,349.88 L224.80,347.83 L225.05,345.78 L225.30,343.73 L225.55,341.67 L225.80,339.62 L226.05,337.57 L226.30,335.52 L226.55,333.49 L226.80,331.46 L227.05,329.44 L227.30,327.44 L227.55,325.45 L227.80,323.48 L228.05,321.53 L228.30,319.60 L228.55,317.69 L228.80,315.81 L229.05,313.96 L229.30,312.13 L229.55,310.33 L229.80,308.57 L230.05,306.84 L230.30,305.14 L230.55,303.49 L230.80,301.87 L231.05,300.29 L231.30,298.75 L231.55,297.25 L231.80,295.81 L232.05,294.40 L232.30,293.05 L232.55,291.74 L232.80,290.48 L233.05,289.28 L233.30,288.13 L233.55,287.03 L233.80,285.98 L234.05,285.00 L234.30,284.06 L234.55,283.19 L234.80,282.37 L235.05,281.62 L235.30,280.92 L235.55,280.29 L235.80,279.71 L236.05,279.20 L236.30,278.75 L236.55,278.37 L236.80,278.04 L237.05,277.78 L237.30,277.59 L237.55,277.45 L237.80,277.39 L238.05,277.38 L238.30,277.44 L238.55,277.57 L238.80,277.76 L239.05,278.01 L239.30,278.32 L239.55,278.70 L239.80,279.14 L240.05,279.65 L240.30,280.22 L240.55,280.84 L240.80,281.53 L241.05,282.28 L241.30,283.09 L241.55,283.96 L241.80,284.88 L242.05,285.86 L242.30,286.90 L242.55,287.99 L242.80,289.14 L243.05,290.34 L243.30,291.59 L243.55,292.89 L243.80,294.24 L244.05,295.63 L244.30,297.08 L244.55,298.57 L244.80,300.10 L245.05,301.67 L245.30,303.29 L245.55,304.94 L245.80,306.63 L246.05,308.36 L246.30,310.12 L246.55,311.91 L246.80,313.74 L247.05,315.59 L247.30,317.47 L247.55,319.37 L247.80,321.30 L248.05,323.25 L248.30,325.22 L248.55,327.20 L248.80,329.20 L249.05,331.22 L249.30,333.24 L249.55,335.28 L249.80,337.32 L250.05,339.37 L250.30,341.42 L250.55,343.48 L250.80,345.53 L251.05,347.59 L251.30,349.63 L251.55,351.67 L251.80,353.71 L252.05,355.73 L252.30,357.74 L252.55,359.74 L252.80,361.72 L253.05,363.68 L253.30,365.62 L253.55,367.54 L253.80,369.44 L254.05,371.31 L254.30,373.15 L254.55,374.96 L254.80,376.75 L255.05,378.50 L255.30,380.21 L255.55,381.89 L255.80,383.53 L256.05,385.13 L256.30,386.70 L256.55,388.21 L256.80,389.69 L257.05,391.12 L257.30,392.50 L257.55,393.83 L257.80,395.12 L258.05,396.35 L258.30,397.53 L258.55,398.66 L258.80,399.74 L259.05,400.76 L259.30,401.72 L259.55,402.63 L259.80,403.48 L260.05,404.27 L260.30,404.99 L260.55,405.66 L260.80,406.27 L261.05,406.82 L261.30,407.30 L261.55,407.73 L261.80,408.08 L262.05,408.38 L262.30,408.61 L262.55,408.78 L262.80,408.88 L263.05,408.92 L263.30,408.90 L263.55,408.81 L263.80,408.66 L264.05,408.44 L264.30,408.16 L264.55,407.82 L264.80,407.41 L265.05,406.94 L265.30,406.41 L265.55,405.82 L265.80,405.16 L266.05,404.45 L266.30,403.67 L266.55,402.84 L266.80,401.94 L267.05,400.99 L267.30,399.99 L267.55,398.93 L267.80,397.81 L268.05,396.64 L268.30,395.42 L268.55,394.15 L268.80,392.82 L269.05,391.45 L269.30,390.04 L269.55,388.57 L269.80,387.06 L270.05,385.51 L270.30,383.92 L270.55,382.29 L270.80,380.62 L271.05,378.91 L271.30,377.17 L271.55,375.39 L271.80,373.59 L272.05,371.75 L272.30,369.89 L272.55,368.00 L272.80,366.08 L273.05,364.15 L273.30,362.19 L273.55,360.21 L273.80,358.22 L274.05,356.21 L274.30,354.19 L274.55,352.16 L274.80,350.12 L275.05,348.08 L275.30,346.03 L275.55,343.97 L275.80,341.92 L276.05,339.86 L276.30,337.81 L276.55,335.77 L276.80,333.73 L277.05,331.70 L277.30,329.68 L277.55,327.68 L277.80,325.69 L278.05,323.72 L278.30,321.76 L278.55,319.83 L278.80,317.92 L279.05,316.04 L279.30,314.18 L279.55,312.35 L279.80,310.55 L280.05,308.78 L280.30,307.04 L280.55,305.34 L280.80,303.68 L281.05,302.06 L281.30,300.47 L281.55,298.93 L281.80,297.43 L282.05,295.98 L282.30,294.57 L282.55,293.21 L282.80,291.89 L283.05,290.63 L283.30,289.42 L283.55,288.26 L283.80,287.16 L284.05,286.11 L284.30,285.11 L284.55,284.17 L284.80,283.29 L285.05,282.47 L285.30,281.71 L285.55,281.00 L285.80,280.36 L286.05,279.78 L286.30,279.26 L286.55,278.80 L286.80,278.41 L287.05,278.08 L287.30,277.81 L287.55,277.61 L287.80,277.47 L288.05,277.39 L288.30,277.38 L288.55,277.43 L288.80,277.55 L289.05,277.73 L289.30,277.97 L289.55,278.28 L289.80,278.65 L290.05,279.09 L290.30,279.59 L290.55,280.14 L290.80,280.76 L291.05,281.45 L291.30,282.19 L291.55,282.99 L291.80,283.85 L292.05,284.77 L292.30,285.74 L292.55,286.77 L292.80,287.86 L293.05,289.00 L293.30,290.19 L293.55,291.43 L293.80,292.73 L294.05,294.07 L294.30,295.46 L294.55,296.90 L294.80,298.39 L295.05,299.91 L295.30,301.48 L295.55,303.09 L295.80,304.74 L296.05,306.43 L296.30,308.15 L296.55,309.91 L296.80,311.70 L297.05,313.52 L297.30,315.37 L297.55,317.24 L297.80,319.14 L298.05,321.07 L298.30,323.01 L298.55,324.98 L298.80,326.96 L299.05,328.96 L299.30,330.97 L299.55,333.00 L299.80,335.03 L300.05,337.08 L300.30,339.13 L300.55,341.18 L300.80,343.23 L301.05,345.29 L301.30,347.34 L301.55,349.39 L301.80,351.43 L302.05,353.46 L302.30,355.49 L302.55,357.50 L302.80,359.50 L303.05,361.48 L303.30,363.44 L303.55,365.39 L303.80,367.31 L304.05,369.21 L304.30,371.08 L304.55,372.93 L304.80,374.75 L305.05,376.53 L305.30,378.29 L305.55,380.01 L305.80,381.69 L306.05,383.34 L306.30,384.94 L306.55,386.51 L306.80,388.03 L307.05,389.51 L307.30,390.95 L307.55,392.34 L307.80,393.68 L308.05,394.97 L308.30,396.21 L308.55,397.40 L308.80,398.53 L309.05,399.61 L309.30,400.64 L309.55,401.61 L309.80,402.52 L310.05,403.38 L310.30,404.17 L310.55,404.91 L310.80,405.59 L311.05,406.20 L311.30,406.76 L311.55,407.25 L311.80,407.68 L312.05,408.04 L312.30,408.35 L312.55,408.59 L312.80,408.76 L313.05,408.87 L313.30,408.92 L313.55,408.91 L313.80,408.82 L314.05,408.68 L314.30,408.47 L314.55,408.20 L314.80,407.86 L315.05,407.46 L315.30,407.00 L315.55,406.48 L315.80,405.89 L316.05,405.24 L316.30,404.53 L316.55,403.77 L316.80,402.94 L317.05,402.05 L317.30,401.11 L317.55,400.11 L317.80,399.06 L318.05,397.95 L318.30,396.78 L318.55,395.57 L318.80,394.30 L319.05,392.99 L319.30,391.62 L319.55,390.21 L319.80,388.75 L320.05,387.25 L320.30,385.70 L320.55,384.11 L320.80,382.49 L321.05,380.82 L321.30,379.12 L321.55,377.38 L321.80,375.61 L322.05,373.81 L322.30,371.97 L322.55,370.11 L322.80,368.23 L323.05,366.31 L323.30,364.38 L323.55,362.43 L323.80,360.45 L324.05,358.46 L324.30,356.46 L324.55,354.44 L324.80,352.41 L325.05,350.37 L325.30,348.32 L325.55,346.27 L325.80,344.22 L326.05,342.16 L326.30,340.11 L326.55,338.06 L326.80,336.01 L327.05,333.97 L327.30,331.94 L327.55,329.93 L327.80,327.92 L328.05,325.93 L328.30,323.95 L328.55,322.00 L328.80,320.06 L329.05,318.15 L329.30,316.26 L329.55,314.40 L329.80,312.57 L330.05,310.76 L330.30,308.99 L330.55,307.25 L330.80,305.55 L331.05,303.88 L331.30,302.25 L331.55,300.66 L331.80,299.11 L332.05,297.61 L332.30,296.15 L332.55,294.73 L332.80,293.37 L333.05,292.05 L333.30,290.78 L333.55,289.56 L333.80,288.40 L334.05,287.29 L334.30,286.23 L334.55,285.23 L334.80,284.28 L335.05,283.39 L335.30,282.56 L335.55,281.79 L335.80,281.08 L336.05,280.43 L336.30,279.85 L336.55,279.32 L336.80,278.85 L337.05,278.45 L337.30,278.11 L337.55,277.84 L337.80,277.63 L338.05,277.48 L338.30,277.40 L338.55,277.38 L338.80,277.42 L339.05,277.53 L339.30,277.70 L339.55,277.94 L339.80,278.24 L340.05,278.61 L340.30,279.03 L340.55,279.52 L340.80,280.07 L341.05,280.69 L341.30,281.36 L341.55,282.10 L341.80,282.89 L342.05,283.74 L342.30,284.65 L342.55,285.62 L342.80,286.65 L343.05,287.72 L343.30,288.86 L343.55,290.04 L343.80,291.28 L344.05,292.57 L344.30,293.91 L344.55,295.30 L344.80,296.73 L345.05,298.21 L345.30,299.73 L345.55,301.29 L345.80,302.90 L346.05,304.54 L346.30,306.22 L346.55,307.94 L346.80,309.70 L347.05,311.48 L347.30,313.30 L347.55,315.14 L347.80,317.01 L348.05,318.91 L348.30,320.83 L348.55,322.78 L348.80,324.74 L349.05,326.72 L349.30,328.72 L349.55,330.73 L349.80,332.76 L350.05,334.79 L350.30,336.83 L350.55,338.88 L350.80,340.93 L351.05,342.99 L351.30,345.04 L351.55,347.09 L351.80,349.14 L352.05,351.18 L352.30,353.22 L352.55,355.25 L352.80,357.26 L353.05,359.26 L353.30,361.24 L353.55,363.21 L353.80,365.16 L354.05,367.08 L354.30,368.98 L354.55,370.86 L354.80,372.71 L355.05,374.53 L355.30,376.32 L355.55,378.08 L355.80,379.80 L356.05,381.49 L356.30,383.14 L356.55,384.75 L356.80,386.32 L357.05,387.85 L357.30,389.34 L357.55,390.78 L357.80,392.17 L358.05,393.52 L358.30,394.82 L358.55,396.06 L358.80,397.26 L359.05,398.40 L359.30,399.49 L359.55,400.52 L359.80,401.50 L360.05,402.42 L360.30,403.28 L360.55,404.08 L360.80,404.83 L361.05,405.51 L361.30,406.13 L361.55,406.69 L361.80,407.19 L362.05,407.63 L362.30,408.00 L362.55,408.32 L362.80,408.56 L363.05,408.75 L363.30,408.86 L363.55,408.92 L363.80,408.91 L363.80,405.74 L364.05,405.08 L364.30,404.36 L364.55,403.57 L364.80,402.73 L365.05,401.83 L365.30,400.88 L365.55,399.86 L365.80,398.80 L366.05,397.67 L366.30,396.50 L366.55,395.27 L366.80,393.99 L367.05,392.66 L367.30,391.29 L367.55,389.86 L367.80,388.39 L368.05,386.88 L368.30,385.32 L368.55,383.73 L368.80,382.09 L369.05,380.42 L369.30,378.70 L369.55,376.96 L369.80,375.18 L370.05,373.37 L370.30,371.53 L370.55,369.66 L370.80,367.77 L371.05,365.85 L371.30,363.91 L371.55,361.95 L371.80,359.98 L372.05,357.98 L372.30,355.97 L372.55,353.95 L372.80,351.92 L373.05,349.88 L373.30,347.83 L373.55,345.78 L373.80,343.73 L374.05,341.67 L374.30,339.62 L374.55,337.57 L374.80,335.52 L375.05,333.49 L375.30,331.46 L375.55,329.44 L375.80,327.44 L376.05,325.45 L376.30,323.48 L376.55,321.53 L376.80,319.60 L377.05,317.69 L377.30,315.81 L377.55,313.96 L377.80,312.13 L378.05,310.33 L378.30,308.57 L378.55,306.84 L378.80,305.14 L379.05,303.49 L379.30,301.87 L379.55,300.29 L379.80,298.75 L380.05,297.25 L380.30,295.81 L380.55,294.40 L380.80,293.05 L381.05,291.74 L381.30,290.48 L381.55,289.28 L381.80,288.13 L382.05,287.03 L382.30,285.98 L382.55,285.00 L382.80,284.06 L383.05,283.19 L383.30,282.37 L383.55,281.62 L383.80,280.92 L384.05,280.29 L384.30,279.71 L384.55,279.20 L384.80,278.75 L385.05,278.37 L385.30,278.04 L385.55,277.78 L385.80,277.59 L386.05,277.45 L386.30,277.39 L386.55,277.38 L386.80,277.44 L387.05,277.57 L387.30,277.76 L387.55,278.01 L387.80,278.32 L388.05,278.70 L388.30,279.14 L388.55,279.65 L388.80,280.22 L389.05,280.84 L389.30,281.53 L389.55,282.28 L389.80,283.09 L390.05,283.96 L390.30,284.88 L390.55,285.86 L390.80,286.90 L391.05,287.99 L391.30,289.14 L391.55,290.34 L391.80,291.59 L392.05,292.89 L392.30,294.24 L392.55,295.63 L392.80,297.08 L393.05,298.57 L393.30,300.10 L393.55,301.67 L393.80,303.29 L394.05,304.94 L394.30,306.63 L394.55,308.36 L394.80,310.12 L395.05,311.91 L395.30,313.74 L395.55,315.59 L395.80,317.47 L396.05,319.37 L396.30,321.30 L396.55,323.25 L396.80,325.22 L397.05,327.20 L397.30,329.20 L397.55,331.22 L397.80,333.24 L398.05,335.28 L398.30,337.32 L398.55,339.37 L398.80,341.42 L399.05,343.48 L399.30,345.53 L399.55,347.59 L399.80,349.63 L400.05,351.67 L400.30,353.71 L400.55,355.73 L400.80,357.74 L401.05,359.74 L401.30,361.72 L401.55,363.68 L401.80,365.62 L402.05,367.54 L402.30,369.44 L402.55,371.31 L402.80,373.15 L403.05,374.96 L403.30,376.75 L403.55,378.50 L403.80,380.21 L404.05,381.89 L404.30,383.53 L404.55,385.13 L404.80,386.70 L405.05,388.21 L405.30,389.69 L405.55,391.12 L405.80,392.50 L406.05,393.83 L406.30,395.12 L406.55,396.35 L406.80,397.53 L407.05,398.66 L407.30,399.74 L407.55,400.76 L407.80,401.72 L408.05,402.63 L408.30,403.48 L408.55,404.27 L408.80,404.99 L409.05,405.66 L409.30,406.27 L409.55,406.82 L409.80,407.30 L410.05,407.73 L410.30,408.08 L410.55,408.38 L410.80,408.61 L411.05,408.78 L411.30,408.88 L411.55,408.92 L411.80,408.90 L412.05,408.81 L412.30,408.66 L412.55,408.44 L412.80,408.16 L413.05,407.82 L413.30,407.41 L413.55,406.94 L413.80,406.41 L414.05,405.82 L414.30,405.16 L414.55,404.45 L414.80,403.67 L415.05,402.84 L415.30,401.94 L415.55,400.99 L415.80,399.99 L416.05,398.93 L416.30,397.81 L416.55,396.64 L416.80,395.42 L417.05,394.15 L417.30,392.82 L417.55,391.45 L417.80,390.04 L418.05,388.57 L418.30,387.06 L418.55,385.51 L418.80,383.92 L419.05,382.29 L419.30,380.62 L419.55,378.91 L419.80,377.17 L420.05,375.39 L420.30,373.59 L420.55,371.75 L420.80,369.89 L421.05,368.00 L421.30,366.08 L421.55,364.15 L421.80,362.19 L422.05,360.21 L422.30,358.22 L422.55,356.21 L422.80,354.19 L423.05,352.16 L423.30,350.12 L423.55,348.08 L423.80,346.03 L424.05,343.97 L424.30,341.92 L424.55,339.86 L424.80,337.81 L425.05,335.77 L425.30,333.73 L425.55,331.70 L425.80,329.68 L426.05,327.68 L426.30,325.69 L426.55,323.72 L426.80,321.76 L427.05,319.83 L427.30,317.92 L427.55,316.04 L427.80,314.18 L428.05,312.35 L428.30,310.55 L428.55,308.78 L428.80,307.04 L429.05,305.34 L429.30,303.68 L429.55,302.06 L429.80,300.47 L430.05,298.93 L430.30,297.43 L430.55,295.98 L430.80,294.57 L431.05,293.21 L431.30,291.89 L431.55,290.63 L431.80,289.42 L432.05,288.26 L432.30,287.16 L432.55,286.11 L432.80,285.11 L433.05,284.17 L433.30,283.29 L433.55,282.47 L433.80,281.71 L434.05,281.00 L434.30,280.36 L434.55,279.78 L434.80,279.26 L435.05,278.80 L435.30,278.41 L435.55,278.08 L435.80,277.81 L436.05,277.61 L436.30,277.47 L436.55,277.39 L436.80,277.38 L437.05,277.43 L437.30,277.55 L437.55,277.73 L437.80,277.97 L438.05,278.28 L438.30,278.65 L438.55,279.09 L438.80,279.59 L439.05,280.14 L439.30,280.76 L439.55,281.45 L439.80,282.19 L440.05,282.99 L440.30,283.85 L440.55,284.77 L440.80,285.74 L441.05,286.77 L441.30,287.86 L441.55,289.00 L441.80,290.19 L442.05,291.43 L442.30,292.73 L442.55,294.07 L442.80,295.46 L443.05,296.90 L443.30,298.39 L443.55,299.91 L443.80,301.48 L444.05,303.09 L444.30,304.74 L444.55,306.43 L444.80,308.15 L445.05,309.91 L445.30,311.70 L445.55,313.52 L445.80,315.37 L446.05,317.24 L446.30,319.14 L446.55,321.07 L446.80,323.01 L447.05,324.98 L447.30,326.96 L447.55,328.96 L447.80,330.97 L448.05,333.00 L448.30,335.03 L448.55,337.08 L448.80,339.13 L449.05,341.18 L449.30,343.23 L449.55,345.29 L449.80,347.34 L450.05,349.39 L450.30,351.43 L450.55,353.46 L450.80,355.49 L451.05,357.50 L451.30,359.50 L451.55,361.48 L451.80,363.44 L452.05,365.39 L452.30,367.31 L452.55,369.21 L452.80,371.08 L453.05,372.93 L453.30,374.75 L453.55,376.53 L453.80,378.29 L454.05,380.01 L454.30,381.69 L454.55,383.34 L454.80,384.94 L455.05,386.51 L455.30,388.03 L455.55,389.51 L455.80,390.95 L456.05,392.34 L456.30,393.68 L456.55,394.97 L456.80,396.21 L457.05,397.40 L457.30,398.53 L457.55,399.61 L457.80,400.64 L458.05,401.61 L458.30,402.52 L458.55,403.38 L458.80,404.17 L459.05,404.91 L459.30,405.59 L459.55,406.20 L459.80,406.76 L460.05,407.25 L460.30,407.68 L460.55,408.04 L460.80,408.35 L461.05,408.59 L461.30,408.76 L461.55,408.87 L461.80,408.92 L462.05,408.91 L462.30,408.82 L462.55,408.68 L462.80,408.47 L463.05,408.20 L463.30,407.86 L463.55,407.46 L463.80,407.00 L464.05,406.48 L464.30,405.89 L464.55,405.24 L464.80,404.53 L465.05,403.77 L465.30,402.94 L465.55,402.05 L465.80,401.11 L466.05,400.11 L466.30,399.06 L466.55,397.95 L466.80,396.78 L467.05,395.57 L467.30,394.30 L467.55,392.99 L467.80,391.62 L468.05,390.21 L468.30,388.75 L468.55,387.25 L468.80,385.70 L469.05,384.11 L469.30,382.49 L469.55,380.82 L469.80,379.12 L470.05,377.38 L470.30,375.61 L470.55,373.81 L470.80,371.97 L471.05,370.11 L471.30,368.23 L471.55,366.31 L471.80,364.38 L472.05,362.43 L472.30,360.45 L472.55,358.46 L472.80,356.46 L473.05,354.44 L473.30,352.41 L473.55,350.37 L473.80,348.32 L474.05,346.27 L474.30,344.22 L474.55,342.16 L474.80,340.11 L475.05,338.06 L475.30,336.01 L475.55,333.97 L475.80,331.94 L476.05,329.93 L476.30,327.92 L476.55,325.93 L476.80,323.95 L477.05,322.00 L477.30,320.06 L477.55,318.15 L477.80,316.26 L478.05,314.40 L478.30,312.57 L478.55,310.76 L478.80,308.99 L479.05,307.25 L479.30,305.55 L479.55,303.88 L479.80,302.25 L480.05,300.66 L480.30,299.11 L480.55,297.61 L480.80,296.15 L481.05,294.73 L481.30,293.37 L481.55,292.05 L481.80,290.78 L482.05,289.56 L482.30,288.40 L482.55,287.29 L482.80,286.23 L483.05,285.23 L483.30,284.28 L483.55,283.39 L483.80,282.56 L484.05,281.79 L484.30,281.08 L484.55,280.43 L484.80,279.85 L485.05,279.32 L485.30,278.85 L485.55,278.45 L485.80,278.11 L486.05,277.84 L486.30,277.63 L486.55,277.48 L486.80,277.40 L487.05,277.38 L487.30,277.42 L487.55,277.53 L487.80,277.70 L488.05,277.94 L488.30,278.24 L488.55,278.61 L488.80,279.03 L489.05,279.52 L489.30,280.07 L489.55,280.69 L489.80,281.36 L490.05,282.10 L490.30,282.89 L490.55,283.74 L490.80,284.65 L491.05,285.62 L491.30,286.65 L491.55,287.72 L491.80,288.86 L492.05,290.04 L492.30,291.28 L492.55,292.57 L492.80,293.91 L493.05,295.30 L493.30,296.73 L493.55,298.21 L493.80,299.73 L494.05,301.29 L494.30,302.90 L494.55,304.54 L494.80,306.22 L495.05,307.94 L495.30,309.70 L495.55,311.48 L495.80,313.30 L496.05,315.14 L496.30,317.01 L496.55,318.91 L496.80,320.83 L497.05,322.78 L497.30,324.74 L497.55,326.72 L497.80,328.72 L498.05,330.73 L498.30,332.76 L498.55,334.79 L498.80,336.83 L499.05,338.88 L499.30,340.93 L499.55,342.99 L499.80,345.04 L500.05,347.09 L500.30,349.14 L500.55,351.18 L500.80,353.22 L501.05,355.25 L501.30,357.26 L501.55,359.26 L501.80,361.24 L502.05,363.21 L502.30,365.16 L502.55,367.08 L502.80,368.98 L503.05,370.86 L503.30,372.71 L503.55,374.53 L503.80,376.32 L504.05,378.08 L504.30,379.80 L504.55,381.49 L504.80,383.14 L505.05,384.75 L505.30,386.32 L505.55,387.85 L505.80,389.34 L506.05,390.78 L506.30,392.17 L506.55,393.52 L506.80,394.82 L507.05,396.06 L507.30,397.26 L507.55,398.40 L507.80,399.49 L508.05,400.52 L508.30,401.50 L508.55,402.42 L508.80,403.28 L509.05,404.08 L509.30,404.83 L509.55,405.51 L509.80,406.13 L510.05,406.69 L510.30,407.19 L510.55,407.63 L510.80,408.00 L511.05,408.32 L511.30,408.56 L511.55,408.75 L511.80,408.86 L512.05,408.92 L512.30,408.91 L512.55,408.84 L512.80,408.70 L513.05,408.50 L513.30,408.23 L513.55,407.91 L513.80,407.51 L514.05,407.06 L514.30,406.54 L514.55,405.96 L514.60,405.84 L515.30,368.90 L519.45,337.20" stroke="#0072BD" stroke-width="1.75"/>
</g>
<rect x="67.2" y="46.8" width="452.30" height="150.45" fill="none" stroke="#1a1a1a" stroke-width="1.5"/>
<line x1="67.20" y1="197.25" x2="67.20" y2="192.25" stroke="#1a1a1a" stroke-width="1.5"/>
<line x1="67.20" y1="46.8" x2="67.20" y2="51.8" stroke="#1a1a1a" stroke-width="1.5"/>
<line x1="142.58" y1="197.25" x2="142.58" y2="192.25" stroke="#1a1a1a" stroke-width="1.5"/>
<line x1="142.58" y1="46.8" x2="142.58" y2="51.8" stroke="#1a1a1a" stroke-width="1.5"/>
<line x1="217.97" y1="197.25" x2="217.97" y2="192.25" stroke="#1a1a1a" stroke-width="1.5"/>
<line x1="217.97" y1="46.8" x2="217.97" y2="51.8" stroke="#1a1a1a" stroke-width="1.5"/>
<line x1="293.35" y1="197.25" x2="293.35" y2="192.25" stroke="#1a1a1a" stroke-width="1.5"/>
<line x1="293.35" y1="46.8" x2="293.35" y2="51.8" stroke="#1a1a1a" stroke-width="1.5"/>
<line x1="368.73" y1="197.25" x2="368.73" y2="192.25" stroke="#1a1a1a" stroke-width="1.5"/>
<line x1="368.73" y1="46.8" x2="368.73" y2="51.8" stroke="#1a1a1a" stroke-width="1.5"/>
<line x1="444.12" y1="197.25" x2="444.12" y2="192.25" stroke="#1a1a1a" stroke-width="1.5"/>
<line x1="444.12" y1="46.8" x2="444.12" y2="51.8" stroke="#1a1a1a" stroke-width="1.5"/>
<line x1="519.50" y1="197.25" x2="519.50" y2="192.25" stroke="#1a1a1a" stroke-width="1.5"/>
<line x1="519.50" y1="46.8" x2="519.50" y2="51.8" stroke="#1a1a1a" stroke-width="1.5"/>
<line x1="67.2" y1="184.90" x2="72.2" y2="184.90" stroke="#1a1a1a" stroke-width="1.5"/>
<line x1="519.5" y1="184.90" x2="514.5" y2="184.90" stroke="#1a1a1a" stroke-width="1.5"/>
<line x1="67.2" y1="122.15" x2="72.2" y2="122.15" stroke="#1a1a1a" stroke-width="1.5"/>
<line x1="519.5" y1="122.15" x2="514.5" y2="122.15" stroke="#1a1a1a" stroke-width="1.5"/>
<line x1="67.2" y1="59.40" x2="72.2" y2="59.40" stroke="#1a1a1a" stroke-width="1.5"/>
<line x1="519.5" y1="59.40" x2="514.5" y2="59.40" stroke="#1a1a1a" stroke-width="1.5"/>
<rect x="67.2" y="266.8" width="452.30" height="152.30" fill="none" stroke="#1a1a1a" stroke-width="1.5"/>
<line x1="67.20" y1="419.1" x2="67.20" y2="414.1" stroke="#1a1a1a" stroke-width="1.5"/>
<line x1="67.20" y1="266.8" x2="67.20" y2="271.8" stroke="#1a1a1a" stroke-width="1.5"/>
<line x1="142.58" y1="419.1" x2="142.58" y2="414.1" stroke="#1a1a1a" stroke-width="1.5"/>
<line x1="142.58" y1="266.8" x2="142.58" y2="271.8" stroke="#1a1a1a" stroke-width="1.5"/>
<line x1="217.97" y1="419.1" x2="217.97" y2="414.1" stroke="#1a1a1a" stroke-width="1.5"/>
<line x1="217.97" y1="266.8" x2="217.97" y2="271.8" stroke="#1a1a1a" stroke-width="1.5"/>
<line x1="293.35" y1="419.1" x2="293.35" y2="414.1" stroke="#1a1a1a" stroke-width="1.5"/>
<line x1="293.35" y1="266.8" x2="293.35" y2="271.8" stroke="#1a1a1a" stroke-width="1.5"/>
<line x1="368.73" y1="419.1" x2="368.73" y2="414.1" stroke="#1a1a1a" stroke-width="1.5"/>
<line x1="368.73" y1="266.8" x2="368.73" y2="271.8" stroke="#1a1a1a" stroke-width="1.5"/>
<line x1="444.12" y1="419.1" x2="444.12" y2="414.1" stroke="#1a1a1a" stroke-width="1.5"/>
<line x1="444.12" y1="266.8" x2="444.12" y2="271.8" stroke="#1a1a1a" stroke-width="1.5"/>
<line x1="519.50" y1="419.1" x2="519.50" y2="414.1" stroke="#1a1a1a" stroke-width="1.5"/>
<line x1="519.50" y1="266.8" x2="519.50" y2="271.8" stroke="#1a1a1a" stroke-width="1.5"/>
<line x1="67.2" y1="406.70" x2="72.2" y2="406.70" stroke="#1a1a1a" stroke-width="1.5"/>
<line x1="519.5" y1="406.70" x2="514.5" y2="406.70" stroke="#1a1a1a" stroke-width="1.5"/>
<line x1="67.2" y1="343.15" x2="72.2" y2="343.15" stroke="#1a1a1a" stroke-width="1.5"/>
<line x1="519.5" y1="343.15" x2="514.5" y2="343.15" stroke="#1a1a1a" stroke-width="1.5"/>
<line x1="67.2" y1="279.60" x2="72.2" y2="279.60" stroke="#1a1a1a" stroke-width="1.5"/>
<line x1="519.5" y1="279.60" x2="514.5" y2="279.60" stroke="#1a1a1a" stroke-width="1.5"/>
<text transform="translate(66.90,222.7) scale(1,1.05)" text-anchor="middle" class="tk">0</text>
<text transform="translate(142.28,222.7) scale(1,1.05)" text-anchor="middle" class="tk">0.05</text>
<text transform="translate(217.67,222.7) scale(1,1.05)" text-anchor="middle" class="tk">0.<tspan class="n1">1</tspan></text>
<text transform="translate(293.05,222.7) scale(1,1.05)" text-anchor="middle" class="tk">0.<tspan class="n1">1</tspan>5</text>
<text transform="translate(368.43,222.7) scale(1,1.05)" text-anchor="middle" class="tk">0.2</text>
<text transform="translate(443.82,222.7) scale(1,1.05)" text-anchor="middle" class="tk">0.25</text>
<text transform="translate(519.20,222.7) scale(1,1.05)" text-anchor="middle" class="tk">0.3</text>
<text transform="translate(66.90,444.6) scale(1,1.05)" text-anchor="middle" class="tk">0</text>
<text transform="translate(142.28,444.6) scale(1,1.05)" text-anchor="middle" class="tk">0.05</text>
<text transform="translate(217.67,444.6) scale(1,1.05)" text-anchor="middle" class="tk">0.<tspan class="n1">1</tspan></text>
<text transform="translate(293.05,444.6) scale(1,1.05)" text-anchor="middle" class="tk">0.<tspan class="n1">1</tspan>5</text>
<text transform="translate(368.43,444.6) scale(1,1.05)" text-anchor="middle" class="tk">0.2</text>
<text transform="translate(443.82,444.6) scale(1,1.05)" text-anchor="middle" class="tk">0.25</text>
<text transform="translate(519.20,444.6) scale(1,1.05)" text-anchor="middle" class="tk">0.3</text>
<text transform="translate(60.6,67.20) scale(1,1.05)" text-anchor="end" class="tk">5</text>
<text transform="translate(60.6,129.95) scale(1,1.05)" text-anchor="end" class="tk">0</text>
<text transform="translate(60.6,192.70) scale(1,1.05)" text-anchor="end" class="tk">-5</text>
<text transform="translate(60.6,287.00) scale(1,1.05)" text-anchor="end" class="tk"><tspan class="n1">1</tspan></text>
<text transform="translate(60.6,350.55) scale(1,1.05)" text-anchor="end" class="tk">0</text>
<text transform="translate(60.6,414.10) scale(1,1.05)" text-anchor="end" class="tk">-<tspan class="n1">1</tspan></text>
<text transform="translate(35.6,130) rotate(-90) scale(1,1.05)" text-anchor="middle" class="lb">Deflection angle(degree)</text>
<text transform="translate(36.2,355.2) rotate(-90) scale(1,1.05)" text-anchor="middle" class="lb">Control voltage(V)</text>
<text transform="translate(292.5,472.4) scale(1,1.05)" text-anchor="middle" class="lb">Time(s)</text>
<rect x="321.5" y="14.6" width="199.8" height="55.5" fill="#fff" stroke="#1a1a1a" stroke-width="1.4"/>
<line x1="327.9" y1="30.1" x2="395.8" y2="30.1" stroke="#0072BD" stroke-width="1.75"/>
<line x1="327.85" y1="54.9" x2="396.3" y2="54.9" stroke="#FF0000" stroke-width="1.9" stroke-dasharray="1.9 4.84"/>
<text transform="translate(401.0,36.7) scale(1,1.05)" class="lg">Set-Trajectory</text>
<text transform="translate(401.8,61.4) scale(1,1.05)" class="lg">IMC</text>
<rect x="270.6" y="243.1" width="252.6" height="30.6" fill="#fff" stroke="#1a1a1a" stroke-width="1.4"/>
<line x1="276.9" y1="258.5" x2="345" y2="258.5" stroke="#0072BD" stroke-width="1.75"/>
<text transform="translate(350.2,265.2) scale(1,1.05)" class="lg">Control value of IMC</text>
</svg>
</body></html>
